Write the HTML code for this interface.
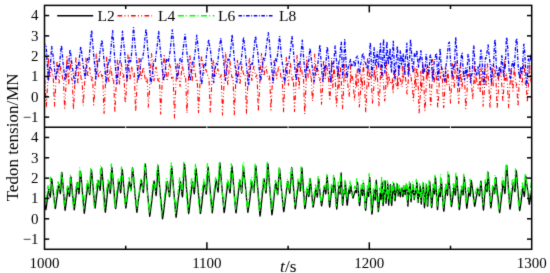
<!DOCTYPE html>
<html><head><meta charset="utf-8"><title>Tendon tension</title>
<style>html,body{margin:0;padding:0;background:#fff;overflow:hidden}svg{display:block}</style>
</head><body><svg width="550" height="273" viewBox="0 0 550 273"><filter id="bl" filterUnits="userSpaceOnUse" x="0" y="0" width="550" height="273" color-interpolation-filters="sRGB"><feConvolveMatrix order="3" kernelMatrix="0.0113 0.0838 0.0113 0.0838 0.6193 0.0838 0.0113 0.0838 0.0113" edgeMode="duplicate"/></filter><g filter="url(#bl)"><rect width="550" height="273" fill="#fff"/><defs><clipPath id="cu"><rect x="44.5" y="5.4" width="487.20000000000005" height="121.89999999999999"/></clipPath><clipPath id="cl"><rect x="44.5" y="127.3" width="487.20000000000005" height="122.00000000000001"/></clipPath></defs><g clip-path="url(#cl)" fill="none" stroke-linejoin="round"><polyline points="43.5,187.7 43.7,189.8 43.9,191.8 44.1,193.9 44.3,195.9 44.5,198.0 44.7,200.0 44.9,201.9 45.1,203.9 45.3,205.9 45.5,207.8 45.7,209.5 45.9,209.5 46.1,208.5 46.3,207.2 46.5,205.8 46.7,204.2 46.9,202.5 47.1,200.8 47.3,199.0 47.5,197.3 47.7,195.7 47.9,194.2 48.1,192.8 48.3,191.6 48.5,190.5 48.7,189.5 48.9,189.3 49.1,190.4 49.3,191.9 49.5,193.2 49.7,194.4 49.9,195.6 50.1,196.7 50.3,197.1 50.5,195.3 50.7,192.4 50.9,189.4 51.1,186.5 51.3,183.6 51.5,180.8 51.7,178.8 51.9,179.9 52.1,181.6 52.3,183.5 52.5,185.3 52.7,187.1 52.9,189.0 53.1,190.8 53.3,192.6 53.5,194.4 53.7,196.2 53.9,197.9 54.1,199.5 54.3,201.2 54.5,202.7 54.7,204.3 54.9,205.9 55.1,207.5 55.3,208.6 55.5,207.8 55.7,206.3 55.9,204.7 56.1,203.3 56.3,201.8 56.5,200.4 56.7,199.1 56.9,197.7 57.1,196.3 57.3,194.9 57.5,193.4 57.7,191.9 57.9,190.3 58.1,188.7 58.3,187.0 58.5,185.3 58.7,184.0 58.9,184.3 59.1,185.3 59.3,186.6 59.5,188.0 59.7,189.4 59.9,191.0 60.1,192.5 60.3,193.7 60.5,192.9 60.7,190.4 60.9,187.4 61.1,184.3 61.3,181.1 61.5,177.9 61.7,174.7 61.9,172.5 62.1,173.9 62.3,176.3 62.5,178.9 62.7,181.4 62.9,183.9 63.1,186.5 63.3,188.9 63.5,191.4 63.7,193.8 63.9,196.2 64.1,198.7 64.3,201.1 64.5,203.6 64.7,206.1 64.9,208.6 65.1,210.4 65.3,209.5 65.5,207.9 65.7,206.4 65.9,204.8 66.1,203.2 66.3,201.6 66.5,200.0 66.7,198.4 66.9,196.9 67.1,195.3 67.3,193.7 67.5,192.1 67.7,190.5 67.9,188.9 68.1,187.8 68.3,188.7 68.5,190.2 68.7,191.6 68.9,193.1 69.1,194.4 69.3,195.7 69.5,196.4 69.7,194.7 69.9,191.7 70.1,188.4 70.3,185.2 70.5,182.0 70.7,178.9 70.9,176.8 71.1,178.1 71.3,180.4 71.5,182.6 71.7,184.9 71.9,187.1 72.1,189.2 72.3,191.3 72.5,193.4 72.7,195.5 72.9,197.6 73.1,199.7 73.3,201.6 73.5,203.5 73.7,205.4 73.9,207.2 74.1,209.0 74.3,209.9 74.5,208.5 74.7,206.7 74.9,205.0 75.1,203.4 75.3,201.8 75.5,200.2 75.7,198.6 75.9,196.9 76.1,195.2 76.3,193.4 76.5,191.5 76.7,189.5 76.9,187.5 77.1,185.4 77.3,183.4 77.5,182.5 77.7,183.5 77.9,185.1 78.1,186.9 78.3,188.7 78.5,190.6 78.7,192.5 78.9,193.8 79.1,192.8 79.3,189.6 79.5,186.1 79.7,182.5 79.9,178.9 80.1,175.4 80.3,172.2 80.5,171.4 80.7,172.9 80.9,174.8 81.1,176.8 81.3,178.8 81.5,181.0 81.7,183.3 81.9,185.7 82.1,188.1 82.3,190.6 82.5,193.0 82.7,195.3 82.9,197.6 83.1,199.9 83.3,202.3 83.5,204.6 83.7,207.0 83.9,209.3 84.1,211.7 84.3,213.3 84.5,212.4 84.7,210.6 84.9,208.9 85.1,207.0 85.3,205.3 85.5,203.5 85.7,201.9 85.9,200.3 86.1,198.7 86.3,197.2 86.5,195.6 86.7,194.0 86.9,192.3 87.1,190.6 87.3,188.9 87.5,187.2 87.7,185.5 87.9,184.1 88.1,184.0 88.3,185.2 88.5,186.7 88.7,188.2 88.9,189.6 89.1,191.0 89.3,192.5 89.5,193.9 89.7,194.7 89.9,193.3 90.1,190.2 90.3,186.8 90.5,183.5 90.7,180.2 90.9,176.8 91.1,173.5 91.3,170.6 91.5,170.0 91.7,171.7 91.9,174.0 92.1,176.2 92.3,178.4 92.5,180.7 92.7,182.9 92.9,185.2 93.1,187.5 93.3,189.9 93.5,192.2 93.7,194.6 93.9,196.9 94.1,199.1 94.3,201.3 94.5,203.3 94.7,205.4 94.9,207.3 95.1,208.2 95.3,206.9 95.5,205.2 95.7,203.4 95.9,201.7 96.1,199.9 96.3,198.2 96.5,196.5 96.7,194.9 96.9,193.2 97.1,191.6 97.3,189.9 97.5,188.2 97.7,186.6 97.9,185.0 98.1,183.4 98.3,181.8 98.5,180.8 98.7,181.7 98.9,183.1 99.1,184.6 99.3,185.9 99.5,187.1 99.7,188.4 99.9,189.6 100.1,190.3 100.3,188.9 100.5,185.8 100.7,182.6 100.9,179.4 101.1,176.2 101.3,173.1 101.5,170.0 101.7,167.8 101.9,169.4 102.1,171.9 102.3,174.2 102.5,176.5 102.7,178.9 102.9,181.2 103.1,183.7 103.3,186.3 103.5,189.0 103.7,191.8 103.9,194.6 104.1,197.4 104.3,200.2 104.5,202.9 104.7,205.5 104.9,208.0 105.1,210.5 105.3,212.3 105.5,211.5 105.7,209.8 105.9,208.0 106.1,206.2 106.3,204.4 106.5,202.4 106.7,200.4 106.9,198.3 107.1,196.2 107.3,194.1 107.5,192.1 107.7,190.1 107.9,188.3 108.1,186.5 108.3,184.7 108.5,183.0 108.7,181.8 108.9,182.5 109.1,184.1 109.3,185.9 109.5,187.6 109.7,189.3 109.9,190.8 110.1,192.3 110.3,193.3 110.5,192.0 110.7,188.7 110.9,185.1 111.1,181.4 111.3,177.8 111.5,174.1 111.7,170.4 111.9,167.6 112.1,168.9 112.3,171.2 112.5,173.5 112.7,175.9 112.9,178.3 113.1,180.6 113.3,183.0 113.5,185.3 113.7,187.7 113.9,190.0 114.1,192.3 114.3,194.6 114.5,196.9 114.7,199.3 114.9,201.7 115.1,204.1 115.3,206.5 115.5,208.5 115.7,208.5 115.9,207.2 116.1,205.6 116.3,204.0 116.5,202.3 116.7,200.5 116.9,198.6 117.1,196.7 117.3,194.9 117.5,193.1 117.7,191.4 117.9,189.7 118.1,188.1 118.3,186.5 118.5,184.9 118.7,183.3 118.9,181.8 119.1,181.6 119.3,182.8 119.5,184.4 119.7,186.1 119.9,187.7 120.1,189.4 120.3,191.1 120.5,192.5 120.7,192.8 120.9,190.3 121.1,187.0 121.3,183.6 121.5,180.2 121.7,176.8 121.9,173.3 122.1,170.3 122.3,169.6 122.5,171.3 122.7,173.6 122.9,176.0 123.1,178.5 123.3,181.0 123.5,183.5 123.7,185.8 123.9,188.1 124.1,190.2 124.3,192.2 124.5,194.2 124.7,196.2 124.9,198.3 125.1,200.4 125.3,202.7 125.5,204.9 125.7,207.0 125.9,208.0 126.1,206.8 126.3,205.1 126.5,203.4 126.7,201.6 126.9,199.8 127.1,198.1 127.3,196.3 127.5,194.6 127.7,193.0 127.9,191.5 128.1,190.0 128.3,188.6 128.5,187.3 128.7,185.9 128.9,184.4 129.1,182.8 129.3,181.6 129.5,182.2 129.7,183.3 129.9,184.4 130.1,185.5 130.3,186.7 130.5,188.0 130.7,189.3 130.9,190.2 131.1,188.9 131.3,186.0 131.5,182.9 131.7,179.9 131.9,176.8 132.1,173.7 132.3,170.4 132.5,167.8 132.7,168.7 132.9,170.4 133.1,172.2 133.3,174.1 133.5,176.1 133.7,178.3 133.9,180.6 134.1,182.9 134.3,185.3 134.5,187.7 134.7,190.1 134.9,192.4 135.1,194.7 135.3,196.9 135.5,199.1 135.7,201.2 135.9,203.3 136.1,205.3 136.3,207.2 136.5,209.2 136.7,211.1 136.9,212.4 137.1,211.3 137.3,209.5 137.5,207.7 137.7,205.9 137.9,204.1 138.1,202.3 138.3,200.7 138.5,199.2 138.7,197.9 138.9,196.6 139.1,195.3 139.3,194.0 139.5,192.6 139.7,191.2 139.9,189.6 140.1,188.1 140.3,186.7 140.5,185.3 140.7,183.8 140.9,182.4 141.1,181.0 141.3,180.3 141.5,181.3 141.7,182.6 141.9,184.0 142.1,185.3 142.3,186.6 142.5,187.9 142.7,189.1 142.9,190.4 143.1,191.7 143.3,192.6 143.5,191.3 143.7,188.5 143.9,185.5 144.1,182.3 144.3,179.2 144.5,175.9 144.7,172.7 144.9,169.5 145.1,166.2 145.3,164.0 145.5,165.4 145.7,167.8 145.9,170.2 146.1,172.7 146.3,175.3 146.5,178.1 146.7,180.9 146.9,183.9 147.1,186.7 147.3,189.5 147.5,192.1 147.7,194.4 147.9,196.6 148.1,198.7 148.3,200.8 148.5,202.8 148.7,204.9 148.9,207.1 149.1,209.4 149.3,211.9 149.5,214.4 149.7,216.4 149.9,215.5 150.1,214.0 150.3,212.5 150.5,210.9 150.7,209.4 150.9,207.9 151.1,206.4 151.3,204.8 151.5,203.3 151.7,201.6 151.9,199.8 152.1,197.9 152.3,195.9 152.5,194.0 152.7,192.1 152.9,190.3 153.1,188.5 153.3,186.8 153.5,185.1 153.7,183.3 153.9,181.7 154.1,180.9 154.3,182.0 154.5,183.5 154.7,185.0 154.9,186.6 155.1,188.0 155.3,189.5 155.5,191.1 155.7,192.7 155.9,194.4 156.1,195.7 156.3,194.6 156.5,191.9 156.7,188.7 156.9,185.4 157.1,181.9 157.3,178.3 157.5,174.7 157.7,171.3 157.9,168.0 158.1,165.9 158.3,167.8 158.5,170.7 158.7,173.7 158.9,176.6 159.1,179.4 159.3,182.1 159.5,184.7 159.7,187.2 159.9,189.5 160.1,191.8 160.3,194.1 160.5,196.3 160.7,198.5 160.9,200.7 161.1,202.9 161.3,205.1 161.5,207.3 161.7,209.6 161.9,211.9 162.1,214.3 162.3,216.9 162.5,218.9 162.7,218.2 162.9,216.9 163.1,215.6 163.3,214.1 163.5,212.6 163.7,211.0 163.9,209.4 164.1,207.6 164.3,205.8 164.5,203.9 164.7,202.0 164.9,200.1 165.1,198.3 165.3,196.7 165.5,195.1 165.7,193.6 165.9,192.1 166.1,190.6 166.3,188.9 166.5,187.2 166.7,185.4 166.9,183.6 167.1,182.1 167.3,181.3 167.5,182.5 167.7,184.2 167.9,185.9 168.1,187.6 168.3,189.1 168.5,190.6 168.7,191.9 168.9,193.2 169.1,194.4 169.3,195.8 169.5,196.7 169.7,195.7 169.9,193.1 170.1,190.3 170.3,187.5 170.5,184.6 170.7,181.6 170.9,178.5 171.1,175.2 171.3,172.0 171.5,168.7 171.7,166.4 171.9,168.0 172.1,170.5 172.3,173.0 172.5,175.5 172.7,178.0 172.9,180.5 173.1,183.0 173.3,185.4 173.5,187.9 173.7,190.2 173.9,192.5 174.1,194.6 174.3,196.7 174.5,198.7 174.7,200.9 174.9,203.2 175.1,205.6 175.3,208.1 175.5,210.7 175.7,213.2 175.9,215.7 176.1,217.4 176.3,216.3 176.5,214.5 176.7,212.7 176.9,210.9 177.1,209.1 177.3,207.3 177.5,205.6 177.7,203.7 177.9,202.0 178.1,200.2 178.3,198.5 178.5,197.0 178.7,195.5 178.9,194.0 179.1,192.4 179.3,190.8 179.5,189.0 179.7,187.2 179.9,185.4 180.1,183.7 180.3,182.3 180.5,181.8 180.7,183.2 180.9,185.1 181.1,187.1 181.3,188.9 181.5,190.7 181.7,192.3 181.9,193.8 182.1,195.1 182.3,196.4 182.5,196.9 182.7,195.1 182.9,191.5 183.1,187.7 183.3,183.9 183.5,180.1 183.7,176.5 183.9,173.0 184.1,169.7 184.3,166.4 184.5,164.1 184.7,165.6 184.9,168.0 185.1,170.3 185.3,172.6 185.5,175.0 185.7,177.5 185.9,180.1 186.1,182.8 186.3,185.4 186.5,188.0 186.7,190.5 186.9,192.8 187.1,195.1 187.3,197.4 187.5,199.8 187.7,202.4 187.9,205.0 188.1,207.7 188.3,210.3 188.5,212.7 188.7,213.5 188.9,212.4 189.1,210.8 189.3,209.1 189.5,207.4 189.7,205.5 189.9,203.6 190.1,201.7 190.3,199.8 190.5,198.0 190.7,196.2 190.9,194.6 191.1,193.0 191.3,191.3 191.5,189.6 191.7,187.9 191.9,186.2 192.1,184.5 192.3,182.9 192.5,181.8 192.7,182.8 192.9,184.3 193.1,185.9 193.3,187.4 193.5,188.9 193.7,190.3 193.9,191.7 194.1,193.1 194.3,193.9 194.5,192.5 194.7,189.5 194.9,186.1 195.1,182.9 195.3,179.7 195.5,176.6 195.7,173.5 195.9,170.5 196.1,168.4 196.3,170.0 196.5,172.5 196.7,174.9 196.9,177.1 197.1,179.2 197.3,181.2 197.5,183.1 197.7,185.1 197.9,187.2 198.1,189.4 198.3,191.6 198.5,193.9 198.7,196.1 198.9,198.2 199.1,200.3 199.3,202.5 199.5,204.6 199.7,206.8 199.9,209.1 200.1,211.4 200.3,213.4 200.5,213.5 200.7,212.3 200.9,210.9 201.1,209.5 201.3,208.0 201.5,206.5 201.7,204.9 201.9,203.2 202.1,201.4 202.3,199.5 202.5,197.5 202.7,195.6 202.9,193.7 203.1,191.9 203.3,190.2 203.5,188.6 203.7,187.0 203.9,185.4 204.1,183.8 204.3,182.6 204.5,182.7 204.7,184.0 204.9,185.5 205.1,186.9 205.3,188.2 205.5,189.6 205.7,190.9 205.9,192.3 206.1,193.6 206.3,194.2 206.5,192.0 206.7,188.7 206.9,185.4 207.1,182.2 207.3,178.9 207.5,175.7 207.7,172.4 207.9,169.2 208.1,167.0 208.3,168.5 208.5,170.9 208.7,173.4 208.9,175.7 209.1,178.0 209.3,180.1 209.5,182.2 209.7,184.3 209.9,186.4 210.1,188.6 210.3,190.9 210.5,193.4 210.7,196.0 210.9,198.5 211.1,201.1 211.3,203.4 211.5,205.6 211.7,207.7 211.9,209.8 212.1,211.7 212.3,212.9 212.5,211.5 212.7,209.4 212.9,207.4 213.1,205.4 213.3,203.6 213.5,201.8 213.7,200.1 213.9,198.4 214.1,196.8 214.3,195.1 214.5,193.4 214.7,191.7 214.9,189.9 215.1,188.2 215.3,186.6 215.5,185.1 215.7,183.6 215.9,182.0 216.1,180.5 216.3,179.9 216.5,181.0 216.7,182.5 216.9,184.0 217.1,185.5 217.3,187.1 217.5,188.6 217.7,190.0 217.9,191.4 218.1,192.1 218.3,190.0 218.5,186.4 218.7,182.7 218.9,179.0 219.1,175.5 219.3,172.1 219.5,168.7 219.7,165.3 219.9,162.9 220.1,164.5 220.3,167.1 220.5,169.7 220.7,172.3 220.9,174.9 221.1,177.5 221.3,179.9 221.5,182.3 221.7,184.6 221.9,187.0 222.1,189.3 222.3,191.7 222.5,194.2 222.7,196.6 222.9,198.9 223.1,201.3 223.3,203.5 223.5,205.8 223.7,208.2 223.9,210.6 224.1,212.6 224.3,212.4 224.5,211.0 224.7,209.4 224.9,207.7 225.1,205.9 225.3,204.1 225.5,202.3 225.7,200.5 225.9,198.7 226.1,196.9 226.3,195.1 226.5,193.4 226.7,191.8 226.9,190.2 227.1,188.7 227.3,187.3 227.5,186.0 227.7,184.6 227.9,183.2 228.1,181.9 228.3,182.0 228.5,183.2 228.7,184.5 228.9,185.9 229.1,187.2 229.3,188.5 229.5,189.8 229.7,191.1 229.9,192.4 230.1,192.9 230.3,190.5 230.5,187.2 230.7,183.9 230.9,180.8 231.1,177.7 231.3,174.7 231.5,171.6 231.7,168.4 231.9,166.0 232.1,167.3 232.3,169.4 232.5,171.6 232.7,173.9 232.9,176.3 233.1,178.7 233.3,181.3 233.5,183.9 233.7,186.4 233.9,189.0 234.1,191.5 234.3,194.0 234.5,196.6 234.7,199.1 234.9,201.5 235.1,204.0 235.3,206.3 235.5,208.6 235.7,210.8 235.9,212.6 236.1,212.9 236.3,211.2 236.5,209.2 236.7,207.3 236.9,205.5 237.1,203.8 237.3,202.2 237.5,200.5 237.7,198.8 237.9,197.0 238.1,195.1 238.3,193.3 238.5,191.5 238.7,189.7 238.9,187.9 239.1,186.2 239.3,184.4 239.5,182.8 239.7,181.2 239.9,180.3 240.1,181.5 240.3,183.3 240.5,185.1 240.7,186.7 240.9,188.1 241.1,189.5 241.3,190.9 241.5,192.3 241.7,193.2 241.9,192.0 242.1,189.0 242.3,185.7 242.5,182.3 242.7,178.9 242.9,175.5 243.1,172.1 243.3,168.8 243.5,166.5 243.7,168.1 243.9,170.6 244.1,173.0 244.3,175.2 244.5,177.3 244.7,179.2 244.9,181.1 245.1,182.9 245.3,184.8 245.5,186.8 245.7,188.9 245.9,191.2 246.1,193.4 246.3,195.7 246.5,198.0 246.7,200.2 246.9,202.4 247.1,204.5 247.3,206.8 247.5,209.0 247.7,211.1 247.9,212.3 248.1,211.2 248.3,209.7 248.5,208.3 248.7,207.0 248.9,205.8 249.1,204.6 249.3,203.3 249.5,202.0 249.7,200.5 249.9,198.8 250.1,197.0 250.3,195.1 250.5,193.2 250.7,191.4 250.9,189.7 251.1,188.1 251.3,186.5 251.5,184.9 251.7,183.3 251.9,181.9 252.1,181.8 252.3,182.8 252.5,184.1 252.7,185.4 252.9,186.7 253.1,188.0 253.3,189.4 253.5,190.7 253.7,191.9 253.9,192.6 254.1,191.0 254.3,187.8 254.5,184.5 254.7,181.2 254.9,178.0 255.1,175.0 255.3,172.0 255.5,169.0 255.7,166.4 255.9,166.1 256.1,168.2 256.3,170.6 256.5,173.0 256.7,175.4 256.9,177.9 257.1,180.3 257.3,182.8 257.5,185.2 257.7,187.7 257.9,190.1 258.1,192.4 258.3,194.8 258.5,197.1 258.7,199.6 258.9,202.0 259.1,204.6 259.3,207.2 259.5,209.8 259.7,212.4 259.9,214.9 260.1,216.1 260.3,214.9 260.5,213.0 260.7,211.0 260.9,209.1 261.1,207.1 261.3,205.0 261.5,203.0 261.7,201.0 261.9,199.0 262.1,197.1 262.3,195.1 262.5,193.2 262.7,191.3 262.9,189.3 263.1,187.4 263.3,185.4 263.5,183.5 263.7,181.7 263.9,179.9 264.1,179.0 264.3,180.2 264.5,182.0 264.7,183.6 264.9,185.3 265.1,186.9 265.3,188.5 265.5,190.1 265.7,191.7 265.9,193.0 266.1,192.4 266.3,189.4 266.5,185.8 266.7,182.2 266.9,178.7 267.1,175.1 267.3,171.4 267.5,167.8 267.7,164.5 267.9,163.9 268.1,165.8 268.3,168.3 268.5,170.9 268.7,173.6 268.9,176.4 269.1,179.1 269.3,181.8 269.5,184.4 269.7,186.9 269.9,189.3 270.1,191.7 270.3,194.1 270.5,196.6 270.7,199.1 270.9,201.7 271.1,204.4 271.3,207.2 271.5,210.0 271.7,212.8 271.9,214.9 272.1,214.3 272.3,212.9 272.5,211.3 272.7,209.7 272.9,208.1 273.1,206.4 273.3,204.6 273.5,202.6 273.7,200.6 273.9,198.4 274.1,196.3 274.3,194.2 274.5,192.2 274.7,190.4 274.9,188.8 275.1,187.2 275.3,185.7 275.5,184.2 275.7,182.9 275.9,182.7 276.1,183.9 276.3,185.3 276.5,186.7 276.7,188.0 276.9,189.5 277.1,191.0 277.3,192.6 277.5,194.1 277.7,194.7 277.9,192.3 278.1,189.1 278.3,185.8 278.5,182.4 278.7,179.0 278.9,175.5 279.1,172.1 279.3,169.1 279.5,168.3 279.7,169.8 279.9,171.8 280.1,173.9 280.3,176.1 280.5,178.3 280.7,180.6 280.9,182.9 281.1,185.2 281.3,187.4 281.5,189.6 281.7,191.7 281.9,193.8 282.1,195.9 282.3,198.0 282.5,200.0 282.7,202.0 282.9,204.0 283.1,206.0 283.3,208.1 283.5,210.1 283.7,211.7 283.9,211.5 284.1,210.0 284.3,208.3 284.5,206.6 284.7,204.9 284.9,203.2 285.1,201.6 285.3,199.9 285.5,198.3 285.7,196.7 285.9,195.1 286.1,193.6 286.3,192.0 286.5,190.5 286.7,188.9 286.9,187.4 287.1,185.9 287.3,184.4 287.5,183.1 287.7,182.0 287.9,181.3 288.1,182.5 288.3,183.9 288.5,185.3 288.7,186.6 288.9,187.9 289.1,189.2 289.3,190.5 289.5,191.8 289.7,193.0 289.9,193.3 290.1,191.0 290.3,188.1 290.5,185.3 290.7,182.5 290.9,179.6 291.1,176.6 291.3,173.5 291.5,170.2 291.7,167.7 291.9,168.8 292.1,170.7 292.3,172.7 292.5,174.7 292.7,176.9 292.9,179.2 293.1,181.7 293.3,184.3 293.5,187.1 293.7,189.9 293.9,192.6 294.1,195.3 294.3,197.8 294.5,200.2 294.7,202.5 294.9,204.8 295.1,207.1 295.3,208.8 295.5,208.1 295.7,206.4 295.9,204.6 296.1,202.8 296.3,201.1 296.5,199.3 296.7,197.6 296.9,195.9 297.1,194.4 297.3,192.9 297.5,191.5 297.7,190.1 297.9,188.7 298.1,187.1 298.3,185.4 298.5,183.6 298.7,182.1 298.9,182.3 299.1,183.5 299.3,184.7 299.5,186.1 299.7,187.4 299.9,188.8 300.1,190.2 300.3,191.2 300.5,189.9 300.7,186.8 300.9,183.3 301.1,179.9 301.3,176.6 301.5,173.3 301.7,170.0 301.9,167.8 302.1,169.8 302.3,172.7 302.5,175.7 302.7,178.6 302.9,181.5 303.1,184.2 303.3,187.0 303.5,189.7 303.7,192.4 303.9,195.3 304.1,198.2 304.3,201.2 304.5,204.2 304.7,207.1 304.9,208.7 305.1,207.9 305.3,206.6 305.5,205.2 305.7,203.8 305.9,202.3 306.1,200.6 306.3,198.9 306.5,197.1 306.7,195.3 306.9,193.6 307.1,191.9 307.3,190.5 307.5,189.4 307.7,189.3 307.9,190.8 308.1,192.4 308.3,193.9 308.5,195.1 308.7,196.1 308.9,196.5 309.1,194.7 309.3,191.5 309.5,188.2 309.7,185.0 309.9,181.9 310.1,179.4 310.3,179.0 310.5,180.8 310.7,183.1 310.9,185.3 311.1,187.5 311.3,189.7 311.5,191.8 311.7,193.9 311.9,195.9 312.1,197.8 312.3,199.7 312.5,201.7 312.7,203.6 312.9,205.5 313.1,207.1 313.3,207.0 313.5,205.7 313.7,204.2 313.9,202.8 314.1,201.5 314.3,200.2 314.5,198.9 314.7,197.5 314.9,196.0 315.1,194.4 315.3,192.8 315.5,191.3 315.7,189.7 315.9,188.4 316.1,188.4 316.3,189.7 316.5,191.3 316.7,193.0 316.9,194.6 317.1,196.2 317.3,197.1 317.5,195.5 317.7,192.5 317.9,189.2 318.1,185.9 318.3,182.7 318.5,179.8 318.7,179.2 318.9,180.8 319.1,182.9 319.3,185.2 319.5,187.5 319.7,189.8 319.9,191.9 320.1,194.0 320.3,195.9 320.5,197.6 320.7,199.2 320.9,200.8 321.1,202.4 321.3,204.1 321.5,205.6 321.7,205.9 321.9,204.7 322.1,203.2 322.3,201.8 322.5,200.3 322.7,198.7 322.9,197.2 323.1,195.6 323.3,194.1 323.5,192.7 323.7,191.2 323.9,189.8 324.1,188.3 324.3,186.8 324.5,186.1 324.7,187.0 324.9,188.4 325.1,189.8 325.3,191.2 325.5,192.6 325.7,193.8 325.9,193.4 326.1,190.7 326.3,187.4 326.5,184.1 326.7,181.0 326.9,178.0 327.1,176.0 327.3,177.8 327.5,180.6 327.7,183.4 327.9,186.1 328.1,188.9 328.3,191.5 328.5,194.2 328.7,196.9 328.9,199.4 329.1,201.9 329.3,204.3 329.5,206.3 329.7,207.2 329.9,205.7 330.1,203.7 330.3,201.8 330.5,199.8 330.7,197.9 330.9,196.0 331.1,194.2 331.3,192.4 331.5,190.6 331.7,188.8 331.9,187.1 332.1,186.0 332.3,186.9 332.5,188.2 332.7,189.6 332.9,191.0 333.1,192.4 333.3,192.2 333.5,189.7 333.7,186.7 333.9,183.6 334.1,180.4 334.3,178.1 334.5,179.7 334.7,182.2 334.9,184.7 335.1,187.1 335.3,189.7 335.5,192.3 335.7,195.1 335.9,198.1 336.1,201.1 336.3,204.1 336.5,207.0 336.7,209.1 336.9,208.1 337.1,205.9 337.3,203.7 337.5,201.5 337.7,199.2 337.9,196.9 338.1,194.6 338.3,192.3 338.5,190.0 338.7,187.8 338.9,186.0 339.1,186.0 339.3,187.8 339.5,189.7 339.7,191.6 339.9,193.4 340.1,194.0 340.3,190.4 340.5,185.8 340.7,180.9 340.9,176.1 341.1,172.8 341.3,175.6 341.5,180.0 341.7,184.6 341.9,189.4 342.1,194.5 342.3,199.6 342.5,204.0 342.7,205.2 342.9,203.3 343.1,200.7 343.3,198.1 343.5,195.3 343.7,192.7 343.9,190.5 344.1,190.1 344.3,191.6 344.5,193.5 344.7,193.8 344.9,189.9 345.1,185.1 345.3,181.6 345.5,183.1 345.7,185.9 345.9,189.0 346.1,191.9 346.3,194.8 346.5,197.7 346.7,200.4 346.9,203.1 347.1,205.2 347.3,205.2 347.5,203.6 347.7,201.6 347.9,199.4 348.1,197.1 348.3,194.9 348.5,192.8 348.7,190.8 348.9,189.3 349.1,189.4 349.3,190.6 349.5,192.0 349.7,193.3 349.9,192.9 350.1,190.6 350.3,187.8 350.5,185.4 350.7,184.9 350.9,186.2 351.1,187.7 351.3,189.0 351.5,190.3 351.7,191.4 351.9,192.5 352.1,193.5 352.3,194.6 352.5,195.6 352.7,196.6 352.9,197.7 353.1,198.2 353.3,197.4 353.5,196.5 353.7,195.7 353.9,195.0 354.1,194.4 354.3,193.9 354.5,193.4 354.7,192.8 354.9,192.2 355.1,191.4 355.3,190.6 355.5,190.6 355.7,191.0 355.9,191.5 356.1,192.0 356.3,192.6 356.5,192.6 356.7,190.6 356.9,188.5 357.1,186.3 357.3,184.0 357.5,182.5 357.7,183.8 357.9,186.0 358.1,188.4 358.3,190.8 358.5,193.5 358.7,195.9 358.9,198.6 359.1,201.2 359.3,203.6 359.5,205.5 359.7,205.5 359.9,203.6 360.1,201.4 360.3,199.0 360.5,196.6 360.7,194.3 360.9,192.1 361.1,190.2 361.3,188.4 361.5,187.3 361.7,187.8 361.9,189.8 362.1,191.9 362.3,194.1 362.5,195.4 362.7,193.5 362.9,190.2 363.1,186.7 363.3,183.5 363.5,183.1 363.7,185.4 363.9,188.5 364.1,191.2 364.3,193.8 364.5,196.4 364.7,198.9 364.9,201.6 365.1,204.4 365.3,207.4 365.5,210.0 365.7,210.3 365.9,208.5 366.1,206.2 366.3,203.9 366.5,201.7 366.7,199.3 366.9,197.0 367.1,194.6 367.3,192.2 367.5,189.7 367.7,188.3 367.9,189.7 368.1,191.9 368.3,193.8 368.5,196.0 368.7,196.4 368.9,192.5 369.1,187.5 369.3,182.5 369.5,178.2 369.7,177.4 369.9,180.0 370.1,183.2 370.3,186.7 370.5,190.1 370.7,193.5 370.9,197.0 371.1,200.5 371.3,203.9 371.5,207.6 371.7,211.1 371.9,214.1 372.1,213.9 372.3,211.6 372.5,208.9 372.7,206.3 372.9,203.5 373.1,200.8 373.3,198.2 373.5,195.8 373.7,193.6 373.9,191.7 374.1,190.2 374.3,191.2 374.5,193.4 374.7,196.1 374.9,198.5 375.1,200.2 375.3,199.4 375.5,195.3 375.7,190.5 375.9,185.5 376.1,181.1 376.3,180.2 376.5,182.6 376.7,185.8 376.9,189.0 377.1,192.2 377.3,195.4 377.5,198.7 377.7,202.2 377.9,205.8 378.1,209.4 378.3,211.6 378.5,210.6 378.7,208.8 378.9,206.9 379.1,204.9 379.3,202.8 379.5,200.5 379.7,198.0 379.9,195.4 380.1,193.3 380.3,192.9 380.5,194.5 380.7,196.6 380.9,198.4 381.1,199.5 381.3,196.6 381.5,191.8 381.7,186.7 381.9,182.3 382.1,182.2 382.3,186.4 382.5,191.9 382.7,197.3 382.9,202.7 383.1,205.7 383.3,203.5 383.5,199.9 383.7,196.1 383.9,192.3 384.1,190.0 384.3,192.0 384.5,193.5 384.7,189.1 384.9,182.4 385.1,181.0 385.3,185.6 385.5,191.6 385.7,197.9 385.9,203.2 386.1,203.2 386.3,199.8 386.5,196.0 386.7,192.6 386.9,191.0 387.1,193.9 387.3,195.6 387.5,189.3 387.7,183.2 387.9,186.0 388.1,191.2 388.3,196.5 388.5,201.7 388.7,205.2 388.9,202.8 389.1,199.0 389.3,195.2 389.5,191.9 389.7,190.9 389.9,193.3 390.1,194.5 390.3,189.4 390.5,184.7 390.7,187.5 390.9,192.0 391.1,196.5 391.3,200.7 391.5,204.3 391.7,205.5 391.9,203.1 392.1,199.8 392.3,196.4 392.5,193.2 392.7,190.8 392.9,192.0 393.1,193.7 393.3,192.7 393.5,187.8 393.7,183.6 393.9,185.2 394.1,188.4 394.3,191.7 394.5,194.9 394.7,198.4 394.9,200.8 395.1,200.5 395.3,198.5 395.5,196.1 395.7,193.7 395.9,191.3 396.1,189.5 396.3,190.1 396.5,191.4 396.7,191.8 396.9,188.2 397.1,184.6 397.3,184.2 397.5,187.2 397.7,191.0 397.9,194.5 398.1,195.8 398.3,194.5 398.5,192.6 398.7,191.1 398.9,191.8 399.1,193.3 399.3,191.6 399.5,188.8 399.7,190.3 399.9,192.8 400.1,195.0 400.3,196.8 400.5,196.5 400.7,194.7 400.9,192.5 401.1,190.6 401.3,189.8 401.5,190.5 401.7,190.2 401.9,188.1 402.1,188.2 402.3,190.8 402.5,193.9 402.7,196.3 402.9,196.6 403.1,194.8 403.3,192.5 403.5,190.8 403.7,191.2 403.9,191.2 404.1,188.1 404.3,187.1 404.5,188.8 404.7,191.1 404.9,193.4 405.1,194.7 405.3,193.1 405.5,190.7 405.7,188.4 405.9,187.1 406.1,188.1 406.3,189.4 406.5,187.3 406.7,185.0 406.9,188.0 407.1,192.2 407.3,196.4 407.5,200.5 407.7,204.2 407.9,206.2 408.1,203.7 408.3,200.2 408.5,196.4 408.7,192.6 408.9,189.6 409.1,189.8 409.3,192.4 409.5,194.1 409.7,189.7 409.9,184.4 410.1,183.7 410.3,187.9 410.5,192.5 410.7,197.2 410.9,201.1 411.1,201.8 411.3,199.5 411.5,196.6 411.7,193.7 411.9,191.4 412.1,192.0 412.3,193.0 412.5,190.8 412.7,186.4 412.9,184.6 413.1,186.3 413.3,188.6 413.5,191.0 413.7,193.5 413.9,196.1 414.1,198.7 414.3,199.5 414.5,198.3 414.7,196.5 414.9,194.9 415.1,193.1 415.3,191.3 415.5,189.8 415.7,190.3 415.9,192.0 416.1,193.2 416.3,191.7 416.5,187.3 416.7,183.0 416.9,182.3 417.1,185.3 417.3,189.3 417.5,193.6 417.7,198.1 417.9,201.9 418.1,202.4 418.3,200.4 418.5,198.0 418.7,195.6 418.9,193.3 419.1,192.1 419.3,194.1 419.5,196.2 419.7,195.1 419.9,190.2 420.1,186.1 420.3,188.3 420.5,192.0 420.7,195.7 420.9,199.5 421.1,202.9 421.3,204.0 421.5,201.2 421.7,197.8 421.9,194.4 422.1,191.1 422.3,188.9 422.5,190.8 422.7,193.4 422.9,192.7 423.1,187.6 423.3,183.3 423.5,186.6 423.7,191.7 423.9,196.7 424.1,201.6 424.3,206.0 424.5,207.8 424.7,205.4 424.9,202.0 425.1,198.6 425.3,195.1 425.5,192.4 425.7,193.6 425.9,195.5 426.1,194.3 426.3,189.2 426.5,185.0 426.7,188.0 426.9,192.7 427.1,197.5 427.3,202.1 427.5,205.9 427.7,206.2 427.9,202.9 428.1,198.9 428.3,194.9 428.5,191.4 428.7,190.3 428.9,193.0 429.1,195.1 429.3,190.7 429.5,184.2 429.7,181.6 429.9,183.3 430.1,186.0 430.3,188.6 430.5,191.3 430.7,194.0 430.9,196.9 431.1,199.9 431.3,203.0 431.5,206.0 431.7,207.5 431.9,205.9 432.1,203.5 432.3,201.0 432.5,198.5 432.7,196.0 432.9,193.5 433.1,191.0 433.3,188.6 433.5,186.5 433.7,186.4 433.9,188.2 434.1,190.5 434.3,192.7 434.5,193.9 434.7,191.2 434.9,186.7 435.1,181.9 435.3,177.8 435.5,177.2 435.7,180.0 435.9,183.4 436.1,186.9 436.3,190.4 436.5,193.9 436.7,197.5 436.9,201.0 437.1,204.5 437.3,207.8 437.5,209.6 437.7,208.0 437.9,205.7 438.1,203.3 438.3,200.9 438.5,198.5 438.7,196.0 438.9,193.6 439.1,191.2 439.3,189.2 439.5,189.0 439.7,190.9 439.9,193.1 440.1,195.3 440.3,196.6 440.5,193.9 440.7,189.3 440.9,184.4 441.1,180.2 441.3,179.1 441.5,181.3 441.7,184.0 441.9,186.9 442.1,189.9 442.3,192.8 442.5,195.7 442.7,198.6 442.9,201.4 443.1,204.0 443.3,206.5 443.5,208.9 443.7,210.9 443.9,211.2 444.1,209.1 444.3,206.6 444.5,204.2 444.7,201.9 444.9,199.7 445.1,197.6 445.3,195.5 445.5,193.5 445.7,191.5 445.9,189.4 446.1,187.2 446.3,185.7 446.5,186.9 446.7,188.8 446.9,190.6 447.1,192.5 447.3,194.4 447.5,195.3 447.7,191.9 447.9,187.6 448.1,183.2 448.3,179.0 448.5,175.3 448.7,174.6 448.9,176.8 449.1,179.5 449.3,182.2 449.5,184.8 449.7,187.4 449.9,189.8 450.1,192.2 450.3,194.5 450.5,196.8 450.7,198.9 450.9,201.1 451.1,203.4 451.3,205.6 451.5,206.5 451.7,205.4 451.9,204.0 452.1,202.5 452.3,201.1 452.5,199.5 452.7,197.9 452.9,196.2 453.1,194.4 453.3,192.5 453.5,190.7 453.7,188.9 453.9,187.1 454.1,185.9 454.3,186.8 454.5,188.4 454.7,190.2 454.9,192.0 455.1,193.8 455.3,195.1 455.5,194.5 455.7,191.4 455.9,187.7 456.1,184.0 456.3,180.2 456.5,177.0 456.7,176.3 456.9,178.3 457.1,180.8 457.3,183.5 457.5,186.2 457.7,189.1 457.9,191.9 458.1,194.7 458.3,197.4 458.5,200.1 458.7,202.7 458.9,205.2 459.1,207.8 459.3,209.7 459.5,209.1 459.7,207.3 459.9,205.4 460.1,203.4 460.3,201.4 460.5,199.3 460.7,197.2 460.9,195.1 461.1,193.1 461.3,191.2 461.5,189.5 461.7,187.9 461.9,186.9 462.1,188.0 462.3,189.8 462.5,191.5 462.7,193.0 462.9,194.3 463.1,195.0 463.3,193.1 463.5,189.7 463.7,186.2 463.9,182.9 464.1,179.5 464.3,177.1 464.5,178.7 464.7,181.1 464.9,183.5 465.1,185.8 465.3,188.2 465.5,190.7 465.7,193.5 465.9,196.5 466.1,199.6 466.3,202.7 466.5,205.8 466.7,208.2 466.9,208.1 467.1,206.6 467.3,205.0 467.5,203.2 467.7,201.5 467.9,199.8 468.1,198.0 468.3,196.3 468.5,194.6 468.7,192.9 468.9,191.3 469.1,190.4 469.3,191.4 469.5,192.7 469.7,194.1 469.9,195.3 470.1,196.1 470.3,194.6 470.5,191.3 470.7,187.9 470.9,184.5 471.1,181.5 471.3,180.6 471.5,181.7 471.7,183.2 471.9,184.6 472.1,186.0 472.3,187.4 472.5,188.8 472.7,190.3 472.9,191.8 473.1,193.4 473.3,195.1 473.5,196.8 473.7,198.6 473.9,200.4 474.1,202.2 474.3,203.9 474.5,205.6 474.7,206.4 474.9,205.7 475.1,204.7 475.3,203.5 475.5,202.2 475.7,200.9 475.9,199.7 476.1,198.5 476.3,197.4 476.5,196.4 476.7,195.3 476.9,194.2 477.1,193.1 477.3,191.9 477.5,190.8 477.7,189.7 477.9,189.0 478.1,189.7 478.3,190.7 478.5,191.7 478.7,192.7 478.9,193.8 479.1,194.9 479.3,195.9 479.5,195.9 479.7,194.2 479.9,192.0 480.1,189.7 480.3,187.3 480.5,185.0 480.7,182.7 480.9,181.1 481.1,182.5 481.3,184.8 481.5,187.1 481.7,189.5 481.9,192.0 482.1,194.4 482.3,196.9 482.5,199.4 482.7,202.0 482.9,204.4 483.1,206.9 483.3,209.1 483.5,210.0 483.7,208.3 483.9,205.9 484.1,203.3 484.3,200.7 484.5,198.0 484.7,195.3 484.9,192.7 485.1,190.2 485.3,187.8 485.5,185.6 485.7,183.4 485.9,182.3 486.1,183.6 486.3,185.5 486.5,187.6 486.7,189.7 486.9,191.7 487.1,191.6 487.3,188.3 487.5,184.3 487.7,180.1 487.9,175.8 488.1,172.5 488.3,173.9 488.5,176.4 488.7,179.0 488.9,181.7 489.1,184.5 489.3,187.5 489.5,190.5 489.7,193.5 489.9,196.5 490.1,199.3 490.3,202.0 490.5,204.6 490.7,207.0 490.9,207.8 491.1,206.4 491.3,204.6 491.5,203.0 491.7,201.4 491.9,199.8 492.1,198.2 492.3,196.5 492.5,194.8 492.7,193.0 492.9,191.1 493.1,189.3 493.3,187.7 493.5,187.3 493.7,188.4 493.9,189.8 494.1,191.2 494.3,192.5 494.5,193.5 494.7,193.3 494.9,190.3 495.1,186.9 495.3,183.6 495.5,180.4 495.7,177.8 495.9,177.5 496.1,179.5 496.3,181.8 496.5,184.0 496.7,186.1 496.9,188.0 497.1,189.8 497.3,191.6 497.5,193.3 497.7,195.0 497.9,196.7 498.1,198.4 498.3,200.2 498.5,202.1 498.7,204.1 498.9,206.1 499.1,208.1 499.3,210.2 499.5,212.1 499.7,212.7 499.9,211.2 500.1,209.3 500.3,207.4 500.5,205.6 500.7,203.8 500.9,202.1 501.1,200.5 501.3,198.9 501.5,197.4 501.7,195.9 501.9,194.2 502.1,192.4 502.3,190.4 502.5,188.3 502.7,186.1 502.9,184.0 503.1,182.0 503.3,181.2 503.5,182.4 503.7,184.2 503.9,186.0 504.1,187.7 504.3,189.4 504.5,191.1 504.7,192.6 504.9,193.7 505.1,192.4 505.3,188.9 505.5,184.9 505.7,181.0 505.9,177.1 506.1,173.2 506.3,169.3 506.5,166.0 506.7,165.4 506.9,167.4 507.1,170.1 507.3,172.7 507.5,175.3 507.7,178.0 507.9,180.6 508.1,183.3 508.3,186.0 508.5,188.9 508.7,191.7 508.9,194.6 509.1,197.5 509.3,200.3 509.5,203.0 509.7,205.7 509.9,208.1 510.1,209.2 510.3,208.0 510.5,206.3 510.7,204.5 510.9,202.6 511.1,200.7 511.3,198.8 511.5,196.9 511.7,195.1 511.9,193.4 512.1,191.7 512.3,190.1 512.5,188.6 512.7,187.0 512.9,185.5 513.1,184.0 513.3,183.0 513.5,184.0 513.7,185.4 513.9,186.8 514.1,188.1 514.3,189.4 514.5,190.6 514.7,191.7 514.9,191.6 515.1,188.9 515.3,185.7 515.5,182.5 515.7,179.3 515.9,176.1 516.1,172.9 516.3,170.6 516.5,172.3 516.7,174.9 516.9,177.5 517.1,180.1 517.3,182.7 517.5,185.2 517.7,187.6 517.9,190.0 518.1,192.4 518.3,194.7 518.5,197.1 518.7,199.4 518.9,201.7 519.1,204.1 519.3,206.6 519.5,209.1 519.7,210.6 519.9,209.8 520.1,208.4 520.3,207.1 520.5,205.7 520.7,204.4 520.9,202.9 521.1,201.4 521.3,199.7 521.5,198.0 521.7,196.3 521.9,194.6 522.1,193.0 522.3,191.5 522.5,189.9 522.7,188.3 522.9,187.6 523.1,188.5 523.3,189.9 523.5,191.3 523.7,192.7 523.9,194.2 524.1,195.6 524.3,196.5 524.5,195.3 524.7,192.3 524.9,189.0 525.1,185.7 525.3,182.5 525.5,179.4 525.7,176.8 525.9,176.3 526.1,178.0 526.3,179.9 526.5,181.8 526.7,183.4 526.9,185.0 527.1,186.4 527.3,187.7 527.5,189.2 527.7,190.7 527.9,192.3 528.1,194.1 528.3,195.9 528.5,197.8 528.7,199.7 528.9,201.7 529.1,203.5 529.3,204.4 529.5,203.6 529.7,202.6 529.9,201.5 530.1,200.3 530.3,199.1 530.5,197.8 530.7,196.4 530.9,195.0 531.1,193.6 531.3,192.3 531.5,191.0 531.7,189.7 531.9,188.4 532.1,187.2 532.3,185.9 532.5,185.2" stroke="#000" stroke-width="1.3"/><polyline points="43.5,188.2 43.7,190.5 43.9,192.7 44.1,194.9 44.3,197.1 44.5,199.2 44.7,201.3 44.9,203.4 45.1,205.3 45.3,206.0 45.5,204.8 45.7,203.2 45.9,201.7 46.1,200.2 46.3,198.7 46.5,197.4 46.7,196.1 46.9,194.7 47.1,193.2 47.3,191.6 47.5,189.8 47.7,187.9 47.9,186.2 48.1,185.7 48.3,186.7 48.5,188.1 48.7,189.6 48.9,191.1 49.1,192.6 49.3,193.5 49.5,192.2 49.7,189.4 49.9,186.4 50.1,183.4 50.3,180.3 50.5,177.7 50.7,177.0 50.9,178.1 51.1,179.6 51.3,181.0 51.5,182.5 51.7,183.8 51.9,185.2 52.1,186.5 52.3,187.9 52.5,189.4 52.7,191.1 52.9,192.9 53.1,194.8 53.3,196.8 53.5,198.7 53.7,200.7 53.9,202.6 54.1,204.4 54.3,206.1 54.5,206.5 54.7,205.4 54.9,203.8 55.1,202.1 55.3,200.4 55.5,198.8 55.7,197.3 55.9,195.9 56.1,194.5 56.3,193.1 56.5,191.7 56.7,190.2 56.9,188.7 57.1,187.2 57.3,185.8 57.5,184.5 57.7,183.2 57.9,182.1 58.1,181.7 58.3,182.7 58.5,183.9 58.7,185.0 58.9,186.2 59.1,187.3 59.3,188.5 59.5,189.8 59.7,190.8 59.9,190.0 60.1,187.7 60.3,185.2 60.5,182.7 60.7,180.1 60.9,177.5 61.1,174.7 61.3,172.2 61.5,172.0 61.7,173.5 61.9,175.4 62.1,177.2 62.3,179.3 62.5,181.5 62.7,184.0 62.9,186.6 63.1,189.4 63.3,192.3 63.5,195.2 63.7,197.9 63.9,200.6 64.1,203.1 64.3,205.4 64.5,207.1 64.7,206.1 64.9,204.4 65.1,202.7 65.3,201.1 65.5,199.5 65.7,198.0 65.9,196.5 66.1,195.1 66.3,193.7 66.5,192.3 66.7,190.9 66.9,189.3 67.1,187.7 67.3,186.0 67.5,184.9 67.7,185.6 67.9,186.7 68.1,187.9 68.3,189.1 68.5,190.5 68.7,192.0 68.9,192.5 69.1,190.3 69.3,187.4 69.5,184.5 69.7,181.5 69.9,178.4 70.1,175.6 70.3,175.2 70.5,176.7 70.7,178.7 70.9,180.7 71.1,182.7 71.3,184.9 71.5,187.1 71.7,189.3 71.9,191.5 72.1,193.6 72.3,195.6 72.5,197.6 72.7,199.6 72.9,201.7 73.1,204.0 73.3,206.3 73.5,208.2 73.7,208.2 73.9,206.6 74.1,204.7 74.3,202.7 74.5,200.5 74.7,198.4 74.9,196.4 75.1,194.5 75.3,192.7 75.5,191.0 75.7,189.3 75.9,187.6 76.1,185.9 76.3,184.3 76.5,182.6 76.7,181.3 76.9,181.6 77.1,183.0 77.3,184.5 77.5,186.0 77.7,187.4 77.9,188.8 78.1,190.2 78.3,190.7 78.5,187.9 78.7,184.4 78.9,181.0 79.1,177.5 79.3,174.1 79.5,170.5 79.7,167.8 79.9,168.8 80.1,170.7 80.3,172.8 80.5,175.0 80.7,177.3 80.9,179.7 81.1,182.1 81.3,184.4 81.5,186.7 81.7,189.0 81.9,191.3 82.1,193.6 82.3,195.9 82.5,198.3 82.7,200.6 82.9,202.7 83.1,204.8 83.3,206.7 83.5,208.4 83.7,208.8 83.9,207.4 84.1,205.6 84.3,203.8 84.5,202.0 84.7,200.3 84.9,198.5 85.1,196.9 85.3,195.3 85.5,193.8 85.7,192.5 85.9,191.1 86.1,189.8 86.3,188.3 86.5,186.7 86.7,185.0 86.9,183.1 87.1,181.0 87.3,179.3 87.5,179.5 87.7,180.6 87.9,182.0 88.1,183.8 88.3,185.8 88.5,187.9 88.7,190.0 88.9,191.9 89.1,192.9 89.3,190.8 89.5,187.5 89.7,184.1 89.9,180.7 90.1,177.4 90.3,174.2 90.5,171.1 90.7,168.5 90.9,168.8 91.1,170.8 91.3,172.9 91.5,175.0 91.7,177.2 91.9,179.4 92.1,181.6 92.3,183.7 92.5,185.9 92.7,188.1 92.9,190.4 93.1,192.8 93.3,195.2 93.5,197.8 93.7,200.3 93.9,202.8 94.1,205.2 94.3,206.8 94.5,205.9 94.7,204.3 94.9,202.6 95.1,200.6 95.3,198.6 95.5,196.3 95.7,194.0 95.9,191.8 96.1,189.6 96.3,187.6 96.5,185.7 96.7,184.0 96.9,182.4 97.1,181.0 97.3,179.6 97.5,178.6 97.7,178.8 97.9,180.4 98.1,182.4 98.3,184.1 98.5,185.7 98.7,187.0 98.9,188.1 99.1,188.6 99.3,187.4 99.5,184.0 99.7,180.3 99.9,176.8 100.1,173.7 100.3,170.6 100.5,167.6 100.7,165.6 100.9,167.0 101.1,169.2 101.3,171.3 101.5,173.3 101.7,175.4 101.9,177.6 102.1,179.9 102.3,182.4 102.5,184.9 102.7,187.4 102.9,189.9 103.1,192.5 103.3,195.0 103.5,197.5 103.7,200.1 103.9,202.9 104.1,205.6 104.3,208.1 104.5,209.3 104.7,208.1 104.9,206.3 105.1,204.4 105.3,202.5 105.5,200.5 105.7,198.7 105.9,196.9 106.1,195.2 106.3,193.4 106.5,191.6 106.7,189.9 106.9,188.1 107.1,186.4 107.3,184.8 107.5,183.1 107.7,181.4 107.9,180.0 108.1,179.9 108.3,181.0 108.5,182.3 108.7,183.7 108.9,185.0 109.1,186.4 109.3,187.9 109.5,189.4 109.7,189.9 109.9,187.3 110.1,183.8 110.3,180.1 110.5,176.3 110.7,172.5 110.9,168.8 111.1,165.5 111.3,163.9 111.5,165.5 111.7,168.0 111.9,170.4 112.1,172.9 112.3,175.3 112.5,177.8 112.7,180.5 112.9,183.1 113.1,185.8 113.3,188.5 113.5,191.1 113.7,193.6 113.9,196.0 114.1,198.4 114.3,200.9 114.5,203.5 114.7,206.0 114.9,207.5 115.1,206.6 115.3,205.0 115.5,203.3 115.7,201.4 115.9,199.5 116.1,197.5 116.3,195.5 116.5,193.6 116.7,191.8 116.9,190.1 117.1,188.4 117.3,186.9 117.5,185.3 117.7,183.6 117.9,181.8 118.1,180.0 118.3,178.8 118.5,179.5 118.7,180.7 118.9,181.9 119.1,183.2 119.3,184.6 119.5,186.1 119.7,187.8 119.9,188.8 120.1,187.0 120.3,184.1 120.5,181.1 120.7,178.0 120.9,174.7 121.1,171.2 121.3,168.1 121.5,166.9 121.7,168.4 121.9,170.6 122.1,172.9 122.3,175.3 122.5,177.7 122.7,180.0 122.9,182.3 123.1,184.4 123.3,186.3 123.5,188.2 123.7,190.1 123.9,191.9 124.1,193.8 124.3,195.8 124.5,197.8 124.7,199.8 124.9,201.9 125.1,204.0 125.3,205.7 125.5,205.9 125.7,204.8 125.9,203.4 126.1,201.9 126.3,200.3 126.5,198.5 126.7,196.7 126.9,194.8 127.1,192.9 127.3,191.1 127.5,189.4 127.7,187.8 127.9,186.3 128.1,184.7 128.3,183.1 128.5,181.5 128.7,179.9 128.9,178.4 129.1,177.4 129.3,178.3 129.5,179.9 129.7,181.8 129.9,183.7 130.1,185.6 130.3,187.5 130.5,189.2 130.7,190.7 130.9,191.3 131.1,189.1 131.3,186.0 131.5,182.9 131.7,179.9 131.9,177.0 132.1,174.1 132.3,171.2 132.5,168.7 132.7,168.7 132.9,170.2 133.1,171.9 133.3,173.6 133.5,175.3 133.7,177.2 133.9,179.1 134.1,181.1 134.3,183.1 134.5,185.1 134.7,187.2 134.9,189.1 135.1,191.0 135.3,192.8 135.5,194.6 135.7,196.5 135.9,198.5 136.1,200.6 136.3,202.9 136.5,205.2 136.7,207.5 136.9,209.0 137.1,208.0 137.3,206.3 137.5,204.5 137.7,202.8 137.9,201.1 138.1,199.5 138.3,198.1 138.5,196.7 138.7,195.4 138.9,194.1 139.1,192.6 139.3,191.1 139.5,189.6 139.7,188.0 139.9,186.4 140.1,184.8 140.3,183.3 140.5,181.8 140.7,180.2 140.9,179.0 141.1,179.2 141.3,180.4 141.5,181.6 141.7,182.8 141.9,183.8 142.1,184.9 142.3,186.0 142.5,187.2 142.7,188.6 142.9,189.4 143.1,187.7 143.3,184.8 143.5,181.7 143.7,178.6 143.9,175.4 144.1,172.2 144.3,168.8 144.5,165.4 144.7,162.8 144.9,163.4 145.1,165.6 145.3,168.2 145.5,170.8 145.7,173.3 145.9,175.8 146.1,178.2 146.3,180.6 146.5,183.1 146.7,185.5 146.9,188.0 147.1,190.5 147.3,192.9 147.5,195.2 147.7,197.4 147.9,199.5 148.1,201.6 148.3,203.7 148.5,205.9 148.7,208.3 148.9,210.8 149.1,212.9 149.3,212.8 149.5,211.7 149.7,210.4 149.9,209.2 150.1,208.0 150.3,206.6 150.5,205.2 150.7,203.5 150.9,201.7 151.1,199.7 151.3,197.6 151.5,195.5 151.7,193.5 151.9,191.7 152.1,190.0 152.3,188.5 152.5,187.0 152.7,185.6 152.9,184.2 153.1,182.7 153.3,181.3 153.5,180.8 153.7,181.8 153.9,183.1 154.1,184.3 154.3,185.4 154.5,186.4 154.7,187.4 154.9,188.4 155.1,189.5 155.3,190.7 155.5,191.3 155.7,189.0 155.9,185.9 156.1,182.9 156.3,179.9 156.5,177.1 156.7,174.3 156.9,171.4 157.1,168.3 157.3,165.5 157.5,164.4 157.7,166.2 157.9,168.5 158.1,170.8 158.3,173.2 158.5,175.5 158.7,177.9 158.9,180.4 159.1,182.9 159.3,185.5 159.5,188.2 159.7,191.0 159.9,193.7 160.1,196.3 160.3,198.9 160.5,201.3 160.7,203.7 160.9,206.1 161.1,208.4 161.3,210.7 161.5,213.0 161.7,215.1 161.9,215.9 162.1,214.7 162.3,213.2 162.5,211.9 162.7,210.5 162.9,209.2 163.1,207.8 163.3,206.3 163.5,204.8 163.7,203.3 163.9,201.7 164.1,200.1 164.3,198.4 164.5,196.7 164.7,195.0 164.9,193.1 165.1,191.3 165.3,189.3 165.5,187.4 165.7,185.3 165.9,183.4 166.1,181.5 166.3,179.8 166.5,178.5 166.7,178.5 166.9,180.0 167.1,181.8 167.3,183.7 167.5,185.4 167.7,187.1 167.9,188.8 168.1,190.4 168.3,192.0 168.5,193.5 168.7,194.9 168.9,195.5 169.1,193.3 169.3,189.9 169.5,186.5 169.7,183.1 169.9,179.7 170.1,176.4 170.3,173.1 170.5,169.9 170.7,166.8 170.9,163.9 171.1,162.8 171.3,164.6 171.5,167.0 171.7,169.6 171.9,172.1 172.1,174.7 172.3,177.2 172.5,179.6 172.7,182.0 172.9,184.3 173.1,186.6 173.3,188.8 173.5,191.1 173.7,193.3 173.9,195.5 174.1,197.7 174.3,200.0 174.5,202.2 174.7,204.5 174.9,207.0 175.1,209.5 175.3,212.0 175.5,213.3 175.7,212.4 175.9,210.9 176.1,209.2 176.3,207.4 176.5,205.5 176.7,203.6 176.9,201.8 177.1,200.1 177.3,198.4 177.5,196.8 177.7,195.1 177.9,193.4 178.1,191.5 178.3,189.6 178.5,187.7 178.7,185.8 178.9,183.9 179.1,182.1 179.3,180.4 179.5,178.8 179.7,177.7 179.9,178.2 180.1,179.8 180.3,181.6 180.5,183.3 180.7,184.9 180.9,186.4 181.1,187.8 181.3,189.3 181.5,190.7 181.7,192.1 181.9,192.3 182.1,189.9 182.3,186.9 182.5,183.8 182.7,180.4 182.9,176.9 183.1,173.2 183.3,169.4 183.5,165.6 183.7,162.5 183.9,162.4 184.1,164.4 184.3,166.9 184.5,169.5 184.7,172.1 184.9,174.6 185.1,177.0 185.3,179.3 185.5,181.5 185.7,183.7 185.9,186.0 186.1,188.6 186.3,191.3 186.5,194.1 186.7,197.1 186.9,199.9 187.1,202.7 187.3,205.4 187.5,208.0 187.7,210.3 187.9,211.5 188.1,210.4 188.3,208.7 188.5,207.0 188.7,205.3 188.9,203.6 189.1,201.9 189.3,200.2 189.5,198.5 189.7,196.7 189.9,194.7 190.1,192.7 190.3,190.6 190.5,188.4 190.7,186.4 190.9,184.4 191.1,182.5 191.3,180.7 191.5,178.9 191.7,177.6 191.9,178.4 192.1,179.9 192.3,181.5 192.5,183.2 192.7,184.8 192.9,186.3 193.1,187.8 193.3,189.2 193.5,190.3 193.7,189.1 193.9,186.4 194.1,183.3 194.3,180.1 194.5,176.8 194.7,173.3 194.9,169.7 195.1,166.2 195.3,163.7 195.5,164.9 195.7,167.2 195.9,169.6 196.1,172.1 196.3,174.5 196.5,176.9 196.7,179.2 196.9,181.4 197.1,183.5 197.3,185.6 197.5,187.8 197.7,190.1 197.9,192.6 198.1,195.2 198.3,197.8 198.5,200.3 198.7,202.8 198.9,205.1 199.1,207.4 199.3,209.6 199.5,211.5 199.7,211.9 199.9,210.7 200.1,209.2 200.3,207.7 200.5,206.1 200.7,204.5 200.9,202.8 201.1,200.9 201.3,199.0 201.5,197.0 201.7,194.9 201.9,192.9 202.1,191.1 202.3,189.3 202.5,187.8 202.7,186.2 202.9,184.7 203.1,183.2 203.3,181.6 203.5,180.0 203.7,179.1 203.9,180.0 204.1,181.3 204.3,182.6 204.5,184.0 204.7,185.4 204.9,186.8 205.1,188.3 205.3,189.8 205.5,191.0 205.7,190.6 205.9,188.1 206.1,185.1 206.3,182.0 206.5,178.7 206.7,175.3 206.9,171.7 207.1,168.0 207.3,164.7 207.5,163.5 207.7,165.1 207.9,167.5 208.1,170.0 208.3,172.5 208.5,175.1 208.7,177.6 208.9,180.1 209.1,182.5 209.3,184.8 209.5,187.0 209.7,189.1 209.9,191.2 210.1,193.3 210.3,195.6 210.5,197.9 210.7,200.4 210.9,202.9 211.1,205.3 211.3,207.7 211.5,209.9 211.7,211.0 211.9,209.7 212.1,207.9 212.3,206.0 212.5,204.1 212.7,202.3 212.9,200.5 213.1,198.7 213.3,197.0 213.5,195.3 213.7,193.5 213.9,191.6 214.1,189.8 214.3,188.1 214.5,186.4 214.7,184.8 214.9,183.2 215.1,181.6 215.3,180.0 215.5,178.4 215.7,177.3 215.9,178.2 216.1,179.5 216.3,180.7 216.5,181.8 216.7,182.8 216.9,183.8 217.1,184.9 217.3,186.1 217.5,187.2 217.7,186.8 217.9,184.2 218.1,181.2 218.3,178.4 218.5,175.5 218.7,172.5 218.9,169.4 219.1,166.1 219.3,163.0 219.5,162.3 219.7,164.0 219.9,166.3 220.1,168.6 220.3,171.1 220.5,173.7 220.7,176.3 220.9,178.9 221.1,181.4 221.3,183.8 221.5,186.1 221.7,188.1 221.9,190.0 222.1,191.8 222.3,193.5 222.5,195.4 222.7,197.4 222.9,199.6 223.1,201.9 223.3,204.3 223.5,206.4 223.7,207.0 223.9,206.0 224.1,204.7 224.3,203.4 224.5,202.2 224.7,200.8 224.9,199.4 225.1,197.8 225.3,196.2 225.5,194.5 225.7,192.9 225.9,191.3 226.1,189.7 226.3,188.2 226.5,186.8 226.7,185.2 226.9,183.7 227.1,182.0 227.3,180.3 227.5,178.7 227.7,178.6 227.9,179.6 228.1,181.0 228.3,182.4 228.5,184.0 228.7,185.5 228.9,187.1 229.1,188.5 229.3,189.8 229.5,190.3 229.7,187.7 229.9,184.4 230.1,181.1 230.3,177.8 230.5,174.5 230.7,171.2 230.9,168.0 231.1,165.0 231.3,163.5 231.5,165.1 231.7,167.4 231.9,169.7 232.1,172.1 232.3,174.5 232.5,176.8 232.7,179.1 232.9,181.3 233.1,183.5 233.3,185.7 233.5,187.9 233.7,190.2 233.9,192.6 234.1,195.0 234.3,197.4 234.5,199.9 234.7,202.3 234.9,204.7 235.1,206.8 235.3,208.7 235.5,209.3 235.7,207.6 235.9,205.4 236.1,203.4 236.3,201.6 236.5,199.9 236.7,198.4 236.9,197.1 237.1,195.9 237.3,194.7 237.5,193.4 237.7,192.1 237.9,190.7 238.1,189.2 238.3,187.4 238.5,185.6 238.7,183.7 238.9,181.7 239.1,179.8 239.3,178.2 239.5,177.7 239.7,178.8 239.9,180.3 240.1,182.0 240.3,183.7 240.5,185.5 240.7,187.3 240.9,189.2 241.1,190.9 241.3,191.9 241.5,189.9 241.7,186.6 241.9,182.9 242.1,179.1 242.3,175.3 242.5,171.6 242.7,168.0 242.9,164.5 243.1,162.3 243.3,163.8 243.5,166.4 243.7,169.0 243.9,171.7 244.1,174.3 244.3,177.0 244.5,179.6 244.7,182.1 244.9,184.5 245.1,186.7 245.3,188.7 245.5,190.7 245.7,192.7 245.9,194.7 246.1,196.8 246.3,199.1 246.5,201.5 246.7,203.9 246.9,206.2 247.1,208.4 247.3,210.0 247.5,209.7 247.7,208.0 247.9,206.2 248.1,204.5 248.3,202.9 248.5,201.5 248.7,200.0 248.9,198.5 249.1,196.8 249.3,194.9 249.5,193.0 249.7,191.0 249.9,189.0 250.1,187.1 250.3,185.3 250.5,183.6 250.7,181.9 250.9,180.3 251.1,178.7 251.3,177.3 251.5,177.0 251.7,178.2 251.9,179.8 252.1,181.4 252.3,183.2 252.5,185.1 252.7,187.1 252.9,189.0 253.1,190.9 253.3,192.2 253.5,190.9 253.7,188.0 253.9,184.7 254.1,181.3 254.3,177.8 254.5,174.3 254.7,170.7 254.9,167.0 255.1,164.1 255.3,164.1 255.5,165.9 255.7,168.2 255.9,170.6 256.1,173.0 256.3,175.6 256.5,178.3 256.7,180.9 256.9,183.6 257.1,186.2 257.3,188.7 257.5,191.0 257.7,193.2 257.9,195.3 258.1,197.4 258.3,199.6 258.5,201.8 258.7,204.2 258.9,206.6 259.1,209.0 259.3,211.2 259.5,212.0 259.7,210.5 259.9,208.6 260.1,206.7 260.3,204.9 260.5,203.2 260.7,201.5 260.9,199.9 261.1,198.2 261.3,196.4 261.5,194.7 261.7,192.9 261.9,191.3 262.1,189.7 262.3,188.2 262.5,186.6 262.7,184.8 262.9,182.9 263.1,180.8 263.3,178.7 263.5,177.4 263.7,178.3 263.9,179.9 264.1,181.7 264.3,183.6 264.5,185.5 264.7,187.3 264.9,189.1 265.1,190.7 265.3,191.9 265.5,191.2 265.7,188.1 265.9,184.5 266.1,180.9 266.3,177.3 266.5,173.6 266.7,169.9 266.9,166.2 267.1,163.0 267.3,162.4 267.5,164.3 267.7,166.9 267.9,169.6 268.1,172.2 268.3,174.7 268.5,177.2 268.7,179.5 268.9,181.8 269.1,184.1 269.3,186.4 269.5,188.7 269.7,190.8 269.9,193.0 270.1,195.1 270.3,197.1 270.5,199.3 270.7,201.6 270.9,204.0 271.1,206.6 271.3,209.1 271.5,210.3 271.7,209.5 271.9,208.3 272.1,207.1 272.3,205.7 272.5,204.3 272.7,202.7 272.9,201.1 273.1,199.3 273.3,197.6 273.5,195.9 273.7,194.2 273.9,192.6 274.1,190.8 274.3,189.0 274.5,187.1 274.7,185.2 274.9,183.4 275.1,181.7 275.3,180.3 275.5,180.1 275.7,181.4 275.9,183.0 276.1,184.6 276.3,186.3 276.5,188.1 276.7,189.9 276.9,191.7 277.1,193.5 277.3,194.5 277.5,192.7 277.7,189.5 277.9,186.0 278.1,182.5 278.3,178.9 278.5,175.4 278.7,172.0 278.9,168.7 279.1,166.4 279.3,167.5 279.5,169.6 279.7,171.7 279.9,173.8 280.1,175.8 280.3,177.8 280.5,179.9 280.7,182.0 280.9,184.1 281.1,186.3 281.3,188.4 281.5,190.6 281.7,192.6 281.9,194.6 282.1,196.4 282.3,198.2 282.5,199.8 282.7,201.5 282.9,203.1 283.1,204.8 283.3,206.3 283.5,206.5 283.7,205.3 283.9,203.9 284.1,202.7 284.3,201.6 284.5,200.5 284.7,199.4 284.9,198.1 285.1,196.8 285.3,195.4 285.5,194.0 285.7,192.5 285.9,191.0 286.1,189.4 286.3,187.9 286.5,186.2 286.7,184.6 286.9,183.0 287.1,181.4 287.3,179.9 287.5,179.2 287.7,180.2 287.9,181.7 288.1,183.3 288.3,184.9 288.5,186.5 288.7,188.0 288.9,189.4 289.1,190.7 289.3,191.6 289.5,190.9 289.7,188.3 289.9,185.4 290.1,182.5 290.3,179.7 290.5,176.7 290.7,173.7 290.9,170.6 291.1,167.8 291.3,167.2 291.5,168.9 291.7,171.1 291.9,173.4 292.1,175.7 292.3,178.1 292.5,180.5 292.7,182.9 292.9,185.2 293.1,187.6 293.3,189.9 293.5,192.2 293.7,194.5 293.9,196.8 294.1,199.0 294.3,201.2 294.5,203.3 294.7,205.1 294.9,204.8 295.1,203.4 295.3,202.0 295.5,200.7 295.7,199.4 295.9,198.1 296.1,196.7 296.3,195.1 296.5,193.3 296.7,191.3 296.9,189.4 297.1,187.5 297.3,185.7 297.5,183.8 297.7,182.0 297.9,180.0 298.1,178.5 298.3,179.0 298.5,180.2 298.7,181.6 298.9,183.1 299.1,184.8 299.3,186.6 299.5,188.4 299.7,189.3 299.9,187.0 300.1,183.5 300.3,179.9 300.5,176.3 300.7,172.9 300.9,169.5 301.1,166.9 301.3,166.9 301.5,169.6 301.7,172.8 301.9,175.9 302.1,178.9 302.3,181.8 302.5,184.6 302.7,187.3 302.9,190.0 303.1,192.7 303.3,195.4 303.5,198.2 303.7,201.0 303.9,203.9 304.1,206.3 304.3,206.6 304.5,205.4 304.7,203.8 304.9,202.0 305.1,200.2 305.3,198.4 305.5,196.7 305.7,195.1 305.9,193.6 306.1,192.2 306.3,190.6 306.5,189.0 306.7,187.3 306.9,185.9 307.1,185.9 307.3,187.2 307.5,188.7 307.7,190.4 307.9,192.1 308.1,193.6 308.3,194.4 308.5,192.3 308.7,189.0 308.9,185.7 309.1,182.5 309.3,179.4 309.5,177.0 309.7,177.3 309.9,179.2 310.1,181.4 310.3,183.4 310.5,185.4 310.7,187.3 310.9,189.4 311.1,191.5 311.3,193.6 311.5,195.7 311.7,197.7 311.9,199.6 312.1,201.3 312.3,203.1 312.5,204.7 312.7,204.8 312.9,203.6 313.1,202.1 313.3,200.7 313.5,199.4 313.7,198.0 313.9,196.6 314.1,195.2 314.3,193.7 314.5,192.1 314.7,190.4 314.9,188.7 315.1,187.0 315.3,185.5 315.5,184.9 315.7,186.0 315.9,187.7 316.1,189.5 316.3,191.3 316.5,192.9 316.7,194.2 316.9,194.0 317.1,191.4 317.3,188.3 317.5,185.2 317.7,182.0 317.9,178.9 318.1,176.6 318.3,177.4 318.5,179.1 318.7,180.9 318.9,182.7 319.1,184.7 319.3,186.7 319.5,188.8 319.7,190.8 319.9,192.8 320.1,194.7 320.3,196.6 320.5,198.5 320.7,200.3 320.9,202.1 321.1,203.6 321.3,203.8 321.5,202.5 321.7,200.9 321.9,199.3 322.1,197.8 322.3,196.4 322.5,195.1 322.7,193.9 322.9,192.8 323.1,191.7 323.3,190.6 323.5,189.5 323.7,188.3 323.9,186.9 324.1,185.6 324.3,185.5 324.5,186.2 324.7,187.0 324.9,187.9 325.1,188.8 325.3,190.0 325.5,190.9 325.7,190.0 325.9,187.7 326.1,184.9 326.3,182.1 326.5,179.2 326.7,176.3 326.9,174.4 327.1,175.9 327.3,178.3 327.5,180.8 327.7,183.4 327.9,186.0 328.1,188.7 328.3,191.3 328.5,193.9 328.7,196.5 328.9,199.1 329.1,201.6 329.3,203.3 329.5,202.1 329.7,200.2 329.9,198.1 330.1,195.9 330.3,193.8 330.5,191.7 330.7,189.8 330.9,188.1 331.1,186.7 331.3,185.3 331.5,184.3 331.7,185.2 331.9,186.9 332.1,188.7 332.3,190.3 332.5,191.5 332.7,191.0 332.9,187.6 333.1,183.5 333.3,179.4 333.5,175.8 333.7,174.3 333.9,176.2 334.1,179.0 334.3,182.0 334.5,184.9 334.7,187.9 334.9,190.8 335.1,193.6 335.3,196.5 335.5,199.3 335.7,202.2 335.9,204.9 336.1,206.2 336.3,204.7 336.5,202.4 336.7,200.1 336.9,197.6 337.1,195.1 337.3,192.6 337.5,190.2 337.7,187.9 337.9,185.7 338.1,183.5 338.3,182.0 338.5,183.0 338.7,185.0 338.9,187.3 339.1,189.5 339.3,191.4 339.5,191.3 339.7,187.8 339.9,183.5 340.1,179.1 340.3,175.0 340.5,173.2 340.7,176.2 340.9,180.2 341.1,184.3 341.3,188.5 341.5,192.8 341.7,197.3 341.9,201.5 342.1,203.5 342.3,202.0 342.5,199.8 342.7,197.6 342.9,195.2 343.1,193.0 343.3,190.7 343.5,189.1 343.7,189.9 343.9,191.7 344.1,193.0 344.3,192.3 344.5,188.1 344.7,183.5 344.9,180.2 345.1,181.5 345.3,183.8 345.5,186.1 345.7,188.4 345.9,190.6 346.1,193.0 346.3,195.5 346.5,198.3 346.7,199.8 346.9,199.0 347.1,197.7 347.3,196.3 347.5,194.7 347.7,192.8 347.9,190.8 348.1,188.6 348.3,187.0 348.5,187.4 348.7,188.5 348.9,189.5 349.1,189.7 349.3,187.0 349.5,183.9 349.7,181.3 349.9,180.4 350.1,182.0 350.3,184.0 350.5,185.7 350.7,187.4 350.9,188.8 351.1,190.1 351.3,191.3 351.5,192.4 351.7,193.5 351.9,194.5 352.1,195.5 352.3,196.2 352.5,195.5 352.7,194.6 352.9,193.7 353.1,193.0 353.3,192.3 353.5,191.6 353.7,191.0 353.9,190.0 354.1,189.1 354.3,188.0 354.5,186.8 354.7,186.1 354.9,186.5 355.1,187.3 355.3,188.0 355.5,188.7 355.7,189.1 355.9,188.1 356.1,185.8 356.3,183.3 356.5,181.0 356.7,179.1 356.9,178.5 357.1,180.4 357.3,183.0 357.5,185.6 357.7,188.2 357.9,190.8 358.1,193.3 358.3,195.7 358.5,197.9 358.7,200.3 358.9,202.3 359.1,202.9 359.3,201.5 359.5,199.5 359.7,197.7 359.9,195.7 360.1,193.8 360.3,191.8 360.5,189.8 360.7,187.9 360.9,186.0 361.1,184.9 361.3,186.0 361.5,187.8 361.7,189.7 361.9,191.5 362.1,191.8 362.3,189.4 362.5,186.3 362.7,183.2 362.9,180.5 363.1,180.8 363.3,183.4 363.5,186.3 363.7,189.3 363.9,192.1 364.1,194.9 364.3,197.6 364.5,200.3 364.7,203.0 364.9,205.8 365.1,208.0 365.3,207.4 365.5,205.3 365.7,203.0 365.9,200.7 366.1,198.4 366.3,196.0 366.5,193.8 366.7,191.2 366.9,188.7 367.1,186.4 367.3,185.7 367.5,187.2 367.7,189.1 367.9,191.1 368.1,192.7 368.3,191.5 368.5,187.2 368.7,182.1 368.9,177.2 369.1,173.6 369.3,175.2 369.5,178.5 369.7,182.0 369.9,185.5 370.1,189.1 370.3,192.6 370.5,196.2 370.7,199.8 370.9,203.2 371.1,206.8 371.3,210.0 371.5,211.1 371.7,209.5 371.9,207.3 372.1,204.9 372.3,202.4 372.5,199.9 372.7,197.1 372.9,194.6 373.1,192.0 373.3,189.6 373.5,187.7 373.7,187.7 373.9,189.5 374.1,191.7 374.3,194.0 374.5,195.9 374.7,196.5 374.9,193.4 375.1,189.5 375.3,185.4 375.5,181.7 375.7,180.7 375.9,183.0 376.1,185.8 376.3,188.4 376.5,191.3 376.7,194.2 376.9,197.3 377.1,200.6 377.3,204.1 377.5,207.8 377.7,210.5 377.9,209.8 378.1,207.9 378.3,205.6 378.5,203.3 378.7,200.9 378.9,198.4 379.1,195.8 379.3,193.1 379.5,190.3 379.7,188.1 379.9,188.8 380.1,190.3 380.3,191.8 380.5,193.2 380.7,193.1 380.9,189.3 381.1,184.7 381.3,180.2 381.5,177.4 381.7,181.5 381.9,188.7 382.1,196.2 382.3,202.4 382.5,202.2 382.7,198.1 382.9,193.2 383.1,189.4 383.3,191.1 383.5,192.0 383.7,184.4 383.9,179.3 384.1,181.9 384.3,186.3 384.5,190.8 384.7,195.4 384.9,199.7 385.1,202.2 385.3,200.1 385.5,197.0 385.7,194.2 385.9,191.5 386.1,189.1 386.3,188.8 386.5,191.3 386.7,193.2 386.9,191.1 387.1,185.3 387.3,180.7 387.5,184.2 387.7,189.9 387.9,195.4 388.1,200.0 388.3,199.3 388.5,195.6 388.7,191.8 388.9,189.0 389.1,190.3 389.3,192.8 389.5,189.2 389.7,184.0 389.9,186.1 390.1,190.4 390.3,194.8 390.5,198.9 390.7,202.1 390.9,202.0 391.1,199.0 391.3,195.4 391.5,191.8 391.7,188.8 391.9,187.9 392.1,189.7 392.3,190.9 392.5,187.0 392.7,182.5 392.9,182.1 393.1,184.7 393.3,188.1 393.5,191.2 393.7,194.0 393.9,196.9 394.1,198.8 394.3,198.3 394.5,196.5 394.7,194.4 394.9,192.4 395.1,190.3 395.3,188.6 395.5,187.7 395.7,188.6 395.9,190.0 396.1,190.3 396.3,187.5 396.5,184.4 396.7,183.2 396.9,185.9 397.1,189.6 397.3,193.1 397.5,195.8 397.7,194.6 397.9,192.7 398.1,190.5 398.3,189.0 398.5,190.2 398.7,190.7 398.9,187.4 399.1,185.2 399.3,186.5 399.5,188.8 399.7,191.1 399.9,192.4 400.1,191.5 400.3,190.3 400.5,189.1 400.7,189.1 400.9,189.9 401.1,188.6 401.3,186.4 401.5,187.8 401.7,190.4 401.9,192.8 402.1,194.1 402.3,192.7 402.5,190.7 402.7,189.0 402.9,189.2 403.1,189.1 403.3,186.2 403.5,185.4 403.7,186.9 403.9,189.0 404.1,191.0 404.3,192.6 404.5,191.8 404.7,189.9 404.9,188.0 405.1,186.1 405.3,185.3 405.5,186.7 405.7,187.6 405.9,185.1 406.1,182.9 406.3,185.6 406.5,189.7 406.7,193.8 406.9,197.8 407.1,201.4 407.3,203.2 407.5,200.8 407.7,197.3 407.9,193.6 408.1,190.2 408.3,187.4 408.5,187.8 408.7,190.4 408.9,191.9 409.1,187.3 409.3,182.1 409.5,181.6 409.7,185.1 409.9,189.2 410.1,193.2 410.3,197.1 410.5,199.6 410.7,198.1 410.9,195.6 411.1,193.0 411.3,190.4 411.5,188.4 411.7,188.9 411.9,189.9 412.1,188.8 412.3,184.7 412.5,181.4 412.7,182.8 412.9,185.4 413.1,188.2 413.3,191.0 413.5,194.1 413.7,196.8 413.9,198.3 414.1,197.2 414.3,195.5 414.5,193.6 414.7,191.6 414.9,189.5 415.1,187.8 415.3,188.0 415.5,189.3 415.7,190.0 415.9,187.7 416.1,183.1 416.3,179.4 416.5,180.9 416.7,185.1 416.9,189.8 417.1,194.6 417.3,199.2 417.5,202.1 417.7,200.6 417.9,197.9 418.1,195.3 418.3,192.7 418.5,190.6 418.7,191.3 418.9,193.2 419.1,193.2 419.3,188.4 419.5,183.7 419.7,184.3 419.9,187.3 420.1,190.6 420.3,194.2 420.5,197.8 420.7,200.6 420.9,199.8 421.1,197.2 421.3,194.4 421.5,191.7 421.7,189.2 421.9,188.0 422.1,190.0 422.3,192.3 422.5,191.4 422.7,186.3 422.9,182.0 423.1,184.4 423.3,189.4 423.5,194.5 423.7,199.5 423.9,203.3 424.1,202.9 424.3,199.5 424.5,195.7 424.7,192.0 424.9,189.3 425.1,190.1 425.3,192.2 425.5,191.3 425.7,186.4 425.9,183.5 426.1,186.9 426.3,191.9 426.5,196.8 426.7,201.6 426.9,205.0 427.1,202.7 427.3,198.8 427.5,194.7 427.7,190.6 427.9,187.7 428.1,189.9 428.3,192.3 428.5,189.2 428.7,182.8 428.9,179.7 429.1,181.5 429.3,184.3 429.5,187.1 429.7,190.0 429.9,192.8 430.1,195.7 430.3,198.5 430.5,201.3 430.7,203.9 430.9,206.0 431.1,205.7 431.3,203.6 431.5,201.1 431.7,198.7 431.9,196.4 432.1,194.0 432.3,191.7 432.5,189.3 432.7,186.8 432.9,184.6 433.1,184.0 433.3,185.5 433.5,187.6 433.7,189.7 433.9,191.4 434.1,190.5 434.3,186.9 434.5,182.6 434.7,178.3 434.9,175.2 435.1,177.0 435.3,180.2 435.5,183.6 435.7,186.8 435.9,190.1 436.1,193.4 436.3,196.8 436.5,200.3 436.7,203.9 436.9,206.8 437.1,206.9 437.3,204.9 437.5,202.6 437.7,200.3 437.9,198.0 438.1,195.7 438.3,193.4 438.5,191.1 438.7,188.6 438.9,186.7 439.1,187.4 439.3,189.0 439.5,190.6 439.7,192.0 439.9,191.7 440.1,187.8 440.3,183.0 440.5,178.2 440.7,174.5 440.9,175.4 441.1,177.9 441.3,180.5 441.5,183.2 441.7,186.0 441.9,188.8 442.1,191.7 442.3,194.7 442.5,197.6 442.7,200.6 442.9,203.6 443.1,206.6 443.3,208.6 443.5,207.4 443.7,205.3 443.9,203.2 444.1,200.9 444.3,198.6 444.5,196.2 444.7,193.6 444.9,191.1 445.1,188.6 445.3,186.3 445.5,184.0 445.7,182.6 445.9,183.8 446.1,185.9 446.3,187.9 446.5,189.9 446.7,191.7 446.9,192.1 447.1,188.5 447.3,183.9 447.5,179.4 447.7,175.1 447.9,171.6 448.1,171.8 448.3,174.1 448.5,176.7 448.7,179.1 448.9,181.5 449.1,183.9 449.3,186.3 449.5,188.9 449.7,191.5 449.9,194.1 450.1,196.9 450.3,199.6 450.5,202.3 450.7,204.4 450.9,204.3 451.1,202.8 451.3,201.0 451.5,199.1 451.7,197.2 451.9,195.3 452.1,193.4 452.3,191.5 452.5,189.7 452.7,188.1 452.9,186.5 453.1,185.0 453.3,183.8 453.5,183.9 453.7,185.4 453.9,187.1 454.1,188.7 454.3,190.1 454.5,191.4 454.7,191.5 454.9,188.7 455.1,185.2 455.3,181.7 455.5,178.1 455.7,174.7 455.9,173.1 456.1,174.5 456.3,176.8 456.5,179.1 456.7,181.7 456.9,184.5 457.1,187.4 457.3,190.4 457.5,193.4 457.7,196.4 457.9,199.1 458.1,201.6 458.3,204.0 458.5,206.0 458.7,206.6 458.9,204.9 459.1,202.8 459.3,200.9 459.5,199.0 459.7,197.3 459.9,195.6 460.1,194.0 460.3,192.5 460.5,191.0 460.7,189.7 460.9,188.3 461.1,186.9 461.3,186.0 461.5,187.1 461.7,188.6 461.9,189.9 462.1,191.1 462.3,192.3 462.5,192.9 462.7,191.2 462.9,187.7 463.1,183.9 463.3,180.3 463.5,176.7 463.7,174.1 463.9,174.9 464.1,177.5 464.3,180.3 464.5,183.1 464.7,185.9 464.9,188.7 465.1,191.6 465.3,194.6 465.5,197.6 465.7,200.7 465.9,203.4 466.1,204.1 466.3,202.7 466.5,200.9 466.7,199.1 466.9,197.2 467.1,195.4 467.3,193.6 467.5,191.9 467.7,190.2 467.9,188.5 468.1,187.3 468.3,187.9 468.5,189.4 468.7,190.9 468.9,192.6 469.1,193.7 469.3,192.2 469.5,189.0 469.7,185.5 469.9,181.9 470.1,179.1 470.3,179.6 470.5,180.9 470.7,182.2 470.9,183.6 471.1,185.1 471.3,186.6 471.5,188.2 471.7,189.8 471.9,191.3 472.1,192.9 472.3,194.2 472.5,195.5 472.7,196.7 472.9,197.9 473.1,199.1 473.3,200.3 473.5,201.6 473.7,202.5 473.9,202.3 474.1,201.3 474.3,200.1 474.5,198.9 474.7,197.8 474.9,196.7 475.1,195.6 475.3,194.5 475.5,193.4 475.7,192.3 475.9,191.2 476.1,190.3 476.3,189.5 476.5,188.8 476.7,188.1 476.9,187.5 477.1,186.9 477.3,186.8 477.5,187.5 477.7,188.4 477.9,189.4 478.1,190.3 478.3,191.3 478.5,192.3 478.7,193.3 478.9,193.8 479.1,192.7 479.3,191.1 479.5,189.6 479.7,188.1 479.9,186.6 480.1,184.9 480.3,183.3 480.5,182.7 480.7,183.9 480.9,185.5 481.1,187.0 481.3,188.6 481.5,190.2 481.7,192.0 481.9,193.9 482.1,196.0 482.3,198.2 482.5,200.6 482.7,203.0 482.9,205.0 483.1,204.9 483.3,203.1 483.5,200.8 483.7,198.4 483.9,195.9 484.1,193.4 484.3,191.0 484.5,188.6 484.7,186.2 484.9,183.9 485.1,181.6 485.3,179.8 485.5,179.9 485.7,181.6 485.9,183.6 486.1,185.8 486.3,187.9 486.5,189.1 486.7,186.7 486.9,182.8 487.1,178.5 487.3,174.4 487.5,170.9 487.7,170.5 487.9,173.1 488.1,176.3 488.3,179.4 488.5,182.4 488.7,185.3 488.9,188.2 489.1,191.0 489.3,193.9 489.5,196.7 489.7,199.6 489.9,202.4 490.1,204.6 490.3,204.6 490.5,202.8 490.7,200.8 490.9,198.9 491.1,197.2 491.3,195.6 491.5,194.1 491.7,192.6 491.9,191.0 492.1,189.2 492.3,187.3 492.5,185.6 492.7,185.3 492.9,186.7 493.1,188.5 493.3,190.4 493.5,192.3 493.7,193.6 493.9,192.5 494.1,189.2 494.3,185.4 494.5,181.6 494.7,177.9 494.9,175.5 495.1,176.5 495.3,178.3 495.5,180.1 495.7,182.1 495.9,184.1 496.1,186.2 496.3,188.3 496.5,190.5 496.7,192.6 496.9,194.6 497.1,196.4 497.3,198.1 497.5,199.7 497.7,201.3 497.9,203.0 498.1,204.8 498.3,206.8 498.5,208.8 498.7,210.7 498.9,211.3 499.1,210.0 499.3,208.4 499.5,206.7 499.7,205.0 499.9,203.2 500.1,201.2 500.3,199.1 500.5,196.8 500.7,194.6 500.9,192.3 501.1,190.1 501.3,188.0 501.5,186.0 501.7,184.1 501.9,182.2 502.1,180.5 502.3,178.7 502.5,177.4 502.7,177.7 502.9,179.1 503.1,180.6 503.3,182.1 503.5,183.6 503.7,185.1 503.9,186.6 504.1,188.1 504.3,189.0 504.5,187.2 504.7,183.9 504.9,180.3 505.1,177.0 505.3,173.7 505.5,170.5 505.7,167.4 505.9,164.6 506.1,164.0 506.3,166.0 506.5,168.4 506.7,170.8 506.9,173.1 507.1,175.5 507.3,178.1 507.5,180.8 507.7,183.6 507.9,186.5 508.1,189.2 508.3,191.9 508.5,194.4 508.7,196.9 508.9,199.2 509.1,201.6 509.3,203.6 509.5,203.7 509.7,202.4 509.9,200.8 510.1,199.3 510.3,197.7 510.5,196.1 510.7,194.4 510.9,192.6 511.1,190.9 511.3,189.2 511.5,187.5 511.7,185.8 511.9,184.0 512.1,182.2 512.3,180.3 512.5,178.6 512.7,178.5 512.9,179.6 513.1,181.0 513.3,182.5 513.5,184.3 513.7,186.2 513.9,188.1 514.1,189.3 514.3,187.2 514.5,184.3 514.7,181.3 514.9,178.1 515.1,174.8 515.3,171.4 515.5,168.8 515.7,169.8 515.9,172.0 516.1,174.4 516.3,176.9 516.5,179.4 516.7,182.0 516.9,184.7 517.1,187.3 517.3,189.9 517.5,192.5 517.7,195.0 517.9,197.5 518.1,200.0 518.3,202.4 518.5,204.7 518.7,207.0 518.9,208.8 519.1,209.0 519.3,207.6 519.5,205.8 519.7,204.1 519.9,202.5 520.1,200.9 520.3,199.3 520.5,197.8 520.7,196.1 520.9,194.5 521.1,192.8 521.3,191.2 521.5,189.4 521.7,187.6 521.9,185.8 522.1,184.1 522.3,182.9 522.5,183.7 522.7,185.0 522.9,186.4 523.1,187.8 523.3,189.1 523.5,190.5 523.7,191.9 523.9,192.6 524.1,190.6 524.3,187.9 524.5,185.1 524.7,182.2 524.9,179.2 525.1,176.0 525.3,173.4 525.5,173.5 525.7,175.2 525.9,177.2 526.1,179.3 526.3,181.5 526.5,183.7 526.7,185.9 526.9,188.0 527.1,190.0 527.3,191.8 527.5,193.5 527.7,195.1 527.9,196.5 528.1,197.9 528.3,199.2 528.5,200.3 528.7,200.2 528.9,199.0 529.1,197.7 529.3,196.5 529.5,195.3 529.7,194.1 529.9,192.8 530.1,191.3 530.3,189.8 530.5,188.3 530.7,186.8 530.9,185.3 531.1,183.9 531.3,182.5 531.5,181.2 531.7,180.7 531.9,181.7 532.1,183.1 532.3,184.5 532.5,185.8" stroke="#0f0" stroke-width="1.2" stroke-dasharray="6 2 1 2.6"/></g><g clip-path="url(#cu)" fill="none" stroke-linejoin="round"><polyline points="43.5,70.2 43.7,68.7 43.9,68.2 44.1,71.1 44.3,73.8 44.5,76.6 44.7,79.0 44.9,81.1 45.1,84.4 45.3,88.8 45.5,93.0 45.7,97.3 45.9,101.6 46.1,106.1 46.3,106.6 46.5,103.1 46.7,99.6 46.9,96.3 47.1,93.0 47.3,89.7 47.5,86.5 47.7,83.4 47.9,73.6 48.1,63.8 48.3,55.7 48.5,58.8 48.7,61.9 48.9,64.7 49.1,67.5 49.3,70.2 49.5,72.7 49.7,75.3 49.9,77.7 50.1,77.2 50.3,75.8 50.5,74.3 50.7,72.9 50.9,71.6 51.1,70.0 51.3,68.4 51.5,68.9 51.7,69.9 51.9,71.0 52.1,72.2 52.3,73.4 52.5,74.8 52.7,76.1 52.9,76.8 53.1,75.8 53.3,77.8 53.5,82.6 53.7,87.5 53.9,92.2 54.1,96.9 54.3,101.6 54.5,106.1 54.7,102.7 54.9,99.2 55.1,96.0 55.3,92.9 55.5,89.6 55.7,86.4 55.9,83.3 56.1,79.7 56.3,75.5 56.5,71.5 56.7,67.5 56.9,63.3 57.1,60.8 57.3,63.5 57.5,66.3 57.7,69.0 57.9,71.5 58.1,73.9 58.3,76.1 58.5,78.1 58.7,80.0 58.9,81.7 59.1,83.1 59.3,80.9 59.5,78.5 59.7,76.5 59.9,74.5 60.1,72.5 60.3,70.5 60.5,68.6 60.7,66.7 60.9,66.1 61.1,67.5 61.3,69.0 61.5,70.3 61.7,71.7 61.9,73.2 62.1,74.6 62.3,76.0 62.5,77.6 62.7,78.8 62.9,78.5 63.1,78.2 63.3,77.9 63.5,80.3 63.7,85.3 63.9,90.4 64.1,95.3 64.3,100.3 64.5,104.8 64.7,109.4 64.9,105.1 65.1,101.0 65.3,97.3 65.5,93.8 65.7,90.7 65.9,87.6 66.1,84.4 66.3,79.1 66.5,71.3 66.7,63.7 66.9,55.5 67.1,59.1 67.3,62.6 67.5,65.9 67.7,69.3 67.9,72.6 68.1,75.9 68.3,79.3 68.5,83.0 68.7,85.0 68.9,81.4 69.1,77.9 69.3,74.4 69.5,70.8 69.7,67.2 69.9,63.8 70.1,60.4 70.3,61.0 70.5,63.2 70.7,65.7 70.9,68.3 71.1,70.9 71.3,73.8 71.5,76.8 71.7,79.5 71.9,79.7 72.1,79.2 72.3,81.3 72.5,86.3 72.7,91.2 72.9,95.8 73.1,100.6 73.3,105.1 73.5,109.7 73.7,105.9 73.9,102.2 74.1,98.4 74.3,94.7 74.5,91.0 74.7,87.3 74.9,83.6 75.1,78.7 75.3,72.9 75.5,67.3 75.7,62.0 75.9,56.9 76.1,58.4 76.3,61.9 76.5,65.3 76.7,68.4 76.9,71.1 77.1,73.8 77.3,76.3 77.5,78.8 77.7,81.4 77.9,84.1 78.1,81.4 78.3,78.6 78.5,75.8 78.7,73.1 78.9,70.3 79.1,67.5 79.3,64.7 79.5,62.1 79.7,62.4 79.9,64.4 80.1,66.5 80.3,68.8 80.5,71.2 80.7,73.6 80.9,76.2 81.1,78.6 81.3,80.7 81.5,80.8 81.7,80.2 81.9,79.3 82.1,81.0 82.3,85.2 82.5,89.4 82.7,93.4 82.9,97.3 83.1,101.5 83.3,105.6 83.5,101.5 83.7,97.7 83.9,94.2 84.1,91.0 84.3,88.0 84.5,85.3 84.7,82.5 84.9,78.9 85.1,74.8 85.3,70.6 85.5,66.3 85.7,62.3 85.9,58.1 86.1,60.4 86.3,62.7 86.5,65.0 86.7,67.3 86.9,69.2 87.1,71.0 87.3,72.7 87.5,74.0 87.7,75.5 87.9,76.8 88.1,76.4 88.3,75.0 88.5,73.7 88.7,72.4 88.9,71.3 89.1,70.4 89.3,69.2 89.5,68.3 89.7,67.6 89.9,68.6 90.1,70.3 90.3,72.1 90.5,73.8 90.7,75.5 90.9,77.0 91.1,78.2 91.3,79.4 91.5,80.3 91.7,80.3 91.9,79.0 92.1,77.4 92.3,75.9 92.5,76.9 92.7,80.8 92.9,85.1 93.1,89.7 93.3,94.6 93.5,99.6 93.7,105.0 93.9,102.5 94.1,100.1 94.3,97.6 94.5,94.7 94.7,91.9 94.9,89.0 95.1,85.7 95.3,81.1 95.5,75.3 95.7,69.2 95.9,63.3 96.1,57.5 96.3,52.7 96.5,54.3 96.7,56.5 96.9,58.7 97.1,60.9 97.3,63.1 97.5,65.5 97.7,68.0 97.9,70.8 98.1,73.6 98.3,76.5 98.5,76.6 98.7,76.1 98.9,75.8 99.1,75.1 99.3,74.4 99.5,73.5 99.7,72.5 99.9,71.4 100.1,70.5 100.3,71.2 100.5,71.8 100.7,72.3 100.9,72.8 101.1,73.3 101.3,74.0 101.5,74.8 101.7,75.8 101.9,76.8 102.1,76.6 102.3,76.2 102.5,75.8 102.7,75.5 102.9,81.2 103.1,87.5 103.3,93.7 103.5,100.0 103.7,106.2 103.9,112.3 104.1,113.5 104.3,109.7 104.5,105.7 104.7,101.5 104.9,96.7 105.1,91.6 105.3,86.4 105.5,81.3 105.7,76.1 105.9,71.2 106.1,66.8 106.3,62.9 106.5,59.4 106.7,55.9 106.9,58.5 107.1,61.7 107.3,64.9 107.5,68.0 107.7,70.6 107.9,73.1 108.1,75.3 108.3,77.2 108.5,79.0 108.7,80.7 108.9,82.5 109.1,80.0 109.3,77.6 109.5,75.5 109.7,73.8 109.9,72.2 110.1,70.5 110.3,68.9 110.5,67.5 110.7,66.0 110.9,66.7 111.1,68.4 111.3,69.9 111.5,71.4 111.7,73.1 111.9,74.8 112.1,76.2 112.3,77.9 112.5,79.4 112.7,80.9 112.9,80.5 113.1,79.8 113.3,79.0 113.5,78.4 113.7,80.6 113.9,85.8 114.1,91.4 114.3,97.1 114.5,102.4 114.7,107.7 114.9,112.6 115.1,108.2 115.3,103.6 115.5,99.0 115.7,94.7 115.9,90.8 116.1,87.2 116.3,83.7 116.5,80.0 116.7,75.8 116.9,71.3 117.1,66.9 117.3,62.4 117.5,58.8 117.7,61.8 117.9,64.9 118.1,67.7 118.3,70.3 118.5,72.5 118.7,74.7 118.9,77.0 119.1,79.3 119.3,81.8 119.5,84.5 119.7,82.7 119.9,79.7 120.1,77.0 120.3,74.4 120.5,71.9 120.7,69.4 120.9,67.2 121.1,64.7 121.3,62.5 121.5,64.5 121.7,66.5 121.9,68.3 122.1,70.0 122.3,71.5 122.5,72.9 122.7,74.5 122.9,75.9 123.1,77.4 123.3,76.9 123.5,76.1 123.7,75.0 123.9,74.2 124.1,78.4 124.3,82.8 124.5,87.2 124.7,91.8 124.9,96.5 125.1,101.5 125.3,102.8 125.5,100.4 125.7,98.1 125.9,95.7 126.1,93.3 126.3,90.6 126.5,87.7 126.7,84.6 126.9,79.2 127.1,73.6 127.3,68.0 127.5,62.2 127.7,56.6 127.9,54.8 128.1,57.3 128.3,59.6 128.5,61.8 128.7,64.2 128.9,66.7 129.1,69.1 129.3,71.7 129.5,74.5 129.7,77.5 129.9,80.3 130.1,78.6 130.3,77.1 130.5,75.6 130.7,73.8 130.9,72.2 131.1,70.5 131.3,68.8 131.5,67.1 131.7,66.3 131.9,68.2 132.1,69.9 132.3,71.2 132.5,72.5 132.7,73.6 132.9,74.5 133.1,75.2 133.3,75.9 133.5,76.8 133.7,75.9 133.9,74.8 134.1,73.9 134.3,73.1 134.5,78.8 134.7,84.6 134.9,90.8 135.1,97.2 135.3,103.7 135.5,110.2 135.7,111.5 135.9,107.7 136.1,103.8 136.3,99.9 136.5,96.0 136.7,92.0 136.9,87.8 137.1,83.6 137.3,80.6 137.5,77.4 137.7,74.1 137.9,70.7 138.1,67.0 138.3,63.6 138.5,60.3 138.7,57.3 138.9,57.1 139.1,58.6 139.3,60.3 139.5,62.0 139.7,63.5 139.9,65.1 140.1,66.5 140.3,68.5 140.5,70.5 140.7,72.7 140.9,74.8 141.1,76.9 141.3,78.8 141.5,78.5 141.7,77.5 141.9,76.4 142.1,75.1 142.3,73.6 142.5,72.1 142.7,70.6 142.9,69.3 143.1,68.2 143.3,67.4 143.5,67.1 143.7,68.4 143.9,69.8 144.1,71.3 144.3,73.0 144.5,74.5 144.7,76.0 144.9,77.3 145.1,78.4 145.3,79.5 145.5,80.6 145.7,81.5 145.9,81.5 146.1,80.8 146.3,80.0 146.5,79.3 146.7,78.2 146.9,77.1 147.1,78.5 147.3,82.6 147.5,86.9 147.7,91.4 147.9,96.5 148.1,101.7 148.3,107.3 148.5,104.5 148.7,101.9 148.9,99.2 149.1,96.4 149.3,93.8 149.5,90.7 149.7,87.4 149.9,83.9 150.1,80.3 150.3,76.4 150.5,72.2 150.7,67.6 150.9,63.1 151.1,58.9 151.3,54.9 151.5,53.6 151.7,55.2 151.9,57.1 152.1,59.1 152.3,61.4 152.5,64.1 152.7,66.8 152.9,69.7 153.1,72.1 153.3,74.9 153.5,77.3 153.7,79.4 153.9,80.9 154.1,79.8 154.3,78.5 154.5,76.9 154.7,75.3 154.9,73.8 155.1,72.3 155.3,70.9 155.5,69.4 155.7,68.2 155.9,67.1 156.1,67.1 156.3,68.1 156.5,69.4 156.7,70.9 156.9,72.4 157.1,74.2 157.3,75.8 157.5,77.4 157.7,78.8 157.9,79.8 158.1,80.8 158.3,81.1 158.5,80.4 158.7,79.7 158.9,79.0 159.1,78.3 159.3,77.6 159.5,80.2 159.7,86.0 159.9,91.6 160.1,97.5 160.3,103.1 160.5,108.7 160.7,114.1 160.9,109.4 161.1,104.7 161.3,100.3 161.5,96.0 161.7,92.2 161.9,88.3 162.1,84.7 162.3,81.8 162.5,79.5 162.7,76.8 162.9,74.1 163.1,71.0 163.3,67.8 163.5,64.5 163.7,61.1 163.9,57.7 164.1,54.1 164.3,54.3 164.5,56.3 164.7,58.2 164.9,60.2 165.1,62.4 165.3,64.6 165.5,66.6 165.7,68.5 165.9,70.3 166.1,72.1 166.3,73.9 166.5,76.1 166.7,78.6 166.9,81.1 167.1,80.3 167.3,79.4 167.5,78.4 167.7,77.2 167.9,75.7 168.1,74.2 168.3,72.6 168.5,70.7 168.7,68.7 168.9,66.7 169.1,64.8 169.3,63.4 169.5,64.2 169.7,65.1 169.9,65.5 170.1,66.1 170.3,67.0 170.5,68.3 170.7,69.9 170.9,71.6 171.1,73.6 171.3,75.4 171.5,76.9 171.7,78.4 171.9,78.3 172.1,78.3 172.3,78.2 172.5,77.9 172.7,77.6 172.9,77.4 173.1,77.1 173.3,80.0 173.5,86.1 173.7,92.4 173.9,98.8 174.1,105.3 174.3,111.5 174.5,118.0 174.7,113.1 174.9,108.2 175.1,103.4 175.3,98.6 175.5,93.8 175.7,89.2 175.9,84.8 176.1,81.2 176.3,78.2 176.5,75.4 176.7,72.8 176.9,70.3 177.1,67.8 177.3,65.3 177.5,62.7 177.7,62.7 177.9,65.2 178.1,67.5 178.3,69.7 178.5,72.0 178.7,74.1 178.9,76.3 179.1,78.2 179.3,80.0 179.5,81.7 179.7,83.2 179.9,84.9 180.1,86.4 180.3,84.0 180.5,82.0 180.7,80.0 180.9,78.1 181.1,76.1 181.3,73.8 181.5,71.3 181.7,69.0 181.9,66.7 182.1,64.4 182.3,64.2 182.5,65.7 182.7,67.1 182.9,68.2 183.1,69.6 183.3,70.7 183.5,71.7 183.7,72.6 183.9,73.6 184.1,74.6 184.3,75.8 184.5,76.5 184.7,76.2 184.9,76.0 185.1,75.9 185.3,75.9 185.5,76.0 185.7,78.9 185.9,84.8 186.1,90.8 186.3,96.6 186.5,102.2 186.7,107.6 186.9,113.0 187.1,108.7 187.3,104.3 187.5,100.0 187.7,95.7 187.9,91.3 188.1,87.1 188.3,82.8 188.5,78.3 188.7,73.9 188.9,69.5 189.1,65.4 189.3,61.5 189.5,58.0 189.7,54.6 189.9,54.7 190.1,57.8 190.3,60.8 190.5,63.8 190.7,66.7 190.9,69.3 191.1,71.7 191.3,74.0 191.5,76.1 191.7,78.0 191.9,80.0 192.1,81.6 192.3,79.8 192.5,77.8 192.7,75.9 192.9,74.0 193.1,72.2 193.3,70.4 193.5,68.6 193.7,66.8 193.9,65.1 194.1,63.5 194.3,65.2 194.5,66.7 194.7,68.5 194.9,70.2 195.1,72.0 195.3,73.5 195.5,75.1 195.7,76.8 195.9,78.5 196.1,80.4 196.3,81.2 196.5,81.3 196.7,81.1 196.9,80.8 197.1,79.8 197.3,81.8 197.5,86.7 197.7,91.5 197.9,96.5 198.1,101.6 198.3,106.9 198.5,112.6 198.7,108.3 198.9,104.3 199.1,100.4 199.3,96.6 199.5,92.7 199.7,88.7 199.9,84.6 200.1,80.8 200.3,77.3 200.5,73.9 200.7,70.4 200.9,66.8 201.1,62.8 201.3,58.7 201.5,55.5 201.7,56.5 201.9,57.4 202.1,58.5 202.3,59.6 202.5,60.9 202.7,62.5 202.9,64.2 203.1,66.2 203.3,68.1 203.5,70.2 203.7,72.2 203.9,73.3 204.1,72.7 204.3,72.3 204.5,71.7 204.7,71.4 204.9,71.0 205.1,70.7 205.3,70.4 205.5,70.0 205.7,69.4 205.9,69.3 206.1,70.1 206.3,70.6 206.5,71.2 206.7,71.6 206.9,72.4 207.1,73.0 207.3,73.7 207.5,74.6 207.7,75.6 207.9,76.8 208.1,77.1 208.3,77.3 208.5,77.7 208.7,78.0 208.9,78.5 209.1,81.5 209.3,87.1 209.5,92.5 209.7,97.8 209.9,102.9 210.1,108.2 210.3,113.4 210.5,109.2 210.7,105.1 210.9,100.8 211.1,96.5 211.3,92.2 211.5,87.9 211.7,83.7 211.9,80.2 212.1,77.3 212.3,74.6 212.5,71.9 212.7,69.1 212.9,66.3 213.1,63.2 213.3,60.0 213.5,60.4 213.7,62.6 213.9,64.8 214.1,67.4 214.3,69.6 214.5,71.7 214.7,73.2 214.9,74.3 215.1,75.0 215.3,75.3 215.5,75.5 215.7,76.1 215.9,75.7 216.1,74.6 216.3,73.6 216.5,72.7 216.7,72.1 216.9,71.5 217.1,71.1 217.3,70.7 217.5,70.2 217.7,69.4 217.9,68.8 218.1,70.1 218.3,70.9 218.5,71.9 218.7,72.8 218.9,73.6 219.1,74.6 219.3,75.6 219.5,76.7 219.7,77.6 219.9,78.5 220.1,78.6 220.3,77.8 220.5,76.9 220.7,76.1 220.9,75.3 221.1,74.6 221.3,77.2 221.5,83.1 221.7,89.1 221.9,95.3 222.1,101.5 222.3,108.1 222.5,114.9 222.7,111.1 222.9,107.2 223.1,103.3 223.3,99.5 223.5,95.4 223.7,91.1 223.9,86.8 224.1,82.4 224.3,78.4 224.5,74.0 224.7,69.5 224.9,64.7 225.1,59.8 225.3,55.0 225.5,52.1 225.7,54.4 225.9,57.1 226.1,60.3 226.3,63.7 226.5,67.3 226.7,70.6 226.9,74.0 227.1,76.9 227.3,79.5 227.5,81.8 227.7,84.2 227.9,84.4 228.1,82.1 228.3,79.9 228.5,77.5 228.7,75.1 228.9,72.5 229.1,70.1 229.3,67.4 229.5,64.7 229.7,62.0 229.9,61.0 230.1,62.3 230.3,63.9 230.5,65.7 230.7,67.6 230.9,69.5 231.1,71.3 231.3,72.9 231.5,74.6 231.7,76.1 231.9,77.5 232.1,77.6 232.3,77.5 232.5,77.5 232.7,77.5 232.9,77.3 233.1,80.4 233.3,86.5 233.5,92.5 233.7,98.0 233.9,103.5 234.1,109.0 234.3,114.7 234.5,109.9 234.7,105.3 234.9,100.8 235.1,96.3 235.3,91.9 235.5,87.4 235.7,82.7 235.9,78.9 236.1,76.0 236.3,73.3 236.5,70.8 236.7,68.2 236.9,65.6 237.1,62.9 237.3,60.2 237.5,61.6 237.7,64.0 237.9,66.0 238.1,67.8 238.3,69.5 238.5,71.3 238.7,73.1 238.9,75.1 239.1,77.1 239.3,79.3 239.5,81.8 239.7,84.5 239.9,84.6 240.1,82.8 240.3,81.2 240.5,79.0 240.7,77.0 240.9,75.0 241.1,73.0 241.3,70.5 241.5,68.0 241.7,65.6 241.9,63.8 242.1,65.3 242.3,67.0 242.5,68.5 242.7,70.0 242.9,71.1 243.1,72.2 243.3,72.8 243.5,73.4 243.7,74.0 243.9,74.9 244.1,75.7 244.3,75.2 244.5,75.0 244.7,75.0 244.9,75.0 245.1,75.2 245.3,78.6 245.5,84.5 245.7,90.5 245.9,96.3 246.1,102.1 246.3,107.7 246.5,113.2 246.7,108.9 246.9,104.4 247.1,99.6 247.3,95.0 247.5,90.6 247.7,86.4 247.9,82.1 248.1,78.2 248.3,74.7 248.5,71.3 248.7,68.1 248.9,65.1 249.1,62.1 249.3,59.0 249.5,57.3 249.7,60.0 249.9,62.5 250.1,65.0 250.3,67.0 250.5,69.0 250.7,70.8 250.9,72.6 251.1,74.5 251.3,76.2 251.5,78.1 251.7,80.1 251.9,80.4 252.1,78.8 252.3,76.9 252.5,75.0 252.7,73.1 252.9,71.5 253.1,69.7 253.3,68.4 253.5,67.3 253.7,66.2 253.9,66.3 254.1,67.7 254.3,68.9 254.5,69.9 254.7,71.0 254.9,72.0 255.1,73.0 255.3,74.1 255.5,75.1 255.7,76.2 255.9,77.0 256.1,76.7 256.3,76.3 256.5,75.7 256.7,75.2 256.9,74.7 257.1,77.2 257.3,82.6 257.5,88.2 257.7,93.9 257.9,99.7 258.1,105.6 258.3,111.0 258.5,107.4 258.7,104.0 258.9,100.4 259.1,97.0 259.3,93.6 259.5,90.0 259.7,86.2 259.9,82.1 260.1,77.6 260.3,73.4 260.5,69.4 260.7,65.6 260.9,62.0 261.1,58.7 261.3,55.4 261.5,53.5 261.7,55.7 261.9,57.8 262.1,59.8 262.3,61.6 262.5,63.3 262.7,65.3 262.9,67.3 263.1,69.4 263.3,71.4 263.5,73.2 263.7,74.9 263.9,76.2 264.1,75.6 264.3,74.2 264.5,72.5 264.7,70.9 264.9,69.5 265.1,68.3 265.3,67.2 265.5,66.4 265.7,65.9 265.9,65.6 266.1,65.5 266.3,66.9 266.5,68.6 266.7,70.2 266.9,71.7 267.1,73.0 267.3,74.1 267.5,75.1 267.7,76.0 267.9,77.0 268.1,77.9 268.3,78.9 268.5,79.1 268.7,78.7 268.9,78.0 269.1,77.5 269.3,76.8 269.5,76.0 269.7,77.9 269.9,83.0 270.1,88.1 270.3,93.1 270.5,98.6 270.7,104.2 270.9,109.9 271.1,106.2 271.3,102.4 271.5,98.7 271.7,94.7 271.9,90.9 272.1,87.2 272.3,83.7 272.5,81.0 272.7,78.6 272.9,76.4 273.1,73.9 273.3,71.4 273.5,68.8 273.7,66.0 273.9,63.0 274.1,60.7 274.3,61.7 274.5,62.5 274.7,63.4 274.9,64.5 275.1,65.4 275.3,66.7 275.5,68.3 275.7,70.1 275.9,72.2 276.1,74.2 276.3,76.2 276.5,78.3 276.7,78.6 276.9,77.6 277.1,76.9 277.3,75.6 277.5,74.2 277.7,72.7 277.9,71.4 278.1,69.9 278.3,68.5 278.5,67.2 278.7,65.9 278.9,66.5 279.1,67.2 279.3,67.7 279.5,68.2 279.7,68.6 279.9,69.4 280.1,70.4 280.3,71.7 280.5,73.3 280.7,75.1 280.9,77.0 281.1,78.1 281.3,78.3 281.5,78.4 281.7,78.3 281.9,78.0 282.1,77.5 282.3,79.9 282.5,85.2 282.7,90.5 282.9,95.9 283.1,101.2 283.3,106.4 283.5,111.7 283.7,107.8 283.9,103.5 284.1,99.2 284.3,94.6 284.5,90.2 284.7,85.8 284.9,81.7 285.1,77.6 285.3,73.6 285.5,69.6 285.7,66.1 285.9,62.7 286.1,59.2 286.3,57.4 286.5,60.8 286.7,63.9 286.9,66.9 287.1,69.7 287.3,72.3 287.5,74.8 287.7,77.1 287.9,79.4 288.1,81.7 288.3,84.1 288.5,85.3 288.7,82.5 288.9,79.6 289.1,76.7 289.3,73.9 289.5,71.2 289.7,68.7 289.9,66.2 290.1,63.9 290.3,62.0 290.5,63.8 290.7,65.9 290.9,67.9 291.1,70.0 291.3,72.2 291.5,74.2 291.7,76.1 291.9,77.7 292.1,79.0 292.3,80.3 292.5,79.4 292.7,78.4 292.9,77.3 293.1,76.3 293.3,78.3 293.5,83.3 293.7,88.6 293.9,94.1 294.1,99.8 294.3,105.5 294.5,111.4 294.7,107.9 294.9,104.1 295.1,100.5 295.3,97.0 295.5,93.3 295.7,89.8 295.9,86.0 296.1,81.3 296.3,75.6 296.5,69.9 296.7,64.1 296.9,58.2 297.1,54.8 297.3,57.7 297.5,61.0 297.7,64.2 297.9,67.6 298.1,71.1 298.3,74.7 298.5,78.3 298.7,81.9 298.9,85.3 299.1,88.1 299.3,85.1 299.5,82.2 299.7,78.9 299.9,75.9 300.1,73.1 300.3,70.4 300.5,67.9 300.7,65.3 300.9,64.4 301.1,65.8 301.3,67.2 301.5,68.6 301.7,70.0 301.9,71.4 302.1,72.9 302.3,74.5 302.5,75.9 302.7,76.8 302.9,76.0 303.1,75.3 303.3,74.7 303.5,77.4 303.7,83.6 303.9,89.7 304.1,96.2 304.3,102.3 304.5,108.3 304.7,114.0 304.9,109.9 305.1,105.5 305.3,100.9 305.5,96.1 305.7,91.7 305.9,87.1 306.1,82.8 306.3,74.9 306.5,63.4 306.7,57.1 306.9,59.4 307.1,61.8 307.3,64.5 307.5,67.3 307.7,70.3 307.9,73.6 308.1,77.0 308.3,77.3 308.5,75.8 308.7,74.5 308.9,73.2 309.1,71.7 309.3,70.0 309.5,68.6 309.7,70.5 309.9,72.1 310.1,73.5 310.3,74.7 310.5,75.5 310.7,76.6 310.9,76.8 311.1,74.4 311.3,78.0 311.5,81.9 311.7,86.1 311.9,90.5 312.1,95.2 312.3,99.9 312.5,101.2 312.7,98.9 312.9,96.4 313.1,93.6 313.3,90.7 313.5,87.7 313.7,84.8 313.9,82.1 314.1,74.6 314.3,67.3 314.5,60.1 314.7,54.0 314.9,56.6 315.1,59.1 315.3,61.2 315.5,63.8 315.7,66.3 315.9,68.5 316.1,71.0 316.3,73.1 316.5,74.8 316.7,73.4 316.9,72.0 317.1,70.9 317.3,70.0 317.5,69.8 317.7,69.6 317.9,69.8 318.1,70.4 318.3,72.7 318.5,74.8 318.7,76.6 318.9,77.9 319.1,79.0 319.3,79.7 319.5,80.2 319.7,80.6 319.9,79.1 320.1,78.1 320.3,79.5 320.5,83.7 320.7,88.0 320.9,92.3 321.1,96.5 321.3,100.3 321.5,104.1 321.7,100.7 321.9,97.5 322.1,94.6 322.3,91.7 322.5,89.2 322.7,86.3 322.9,83.9 323.1,78.3 323.3,69.8 323.5,61.1 323.7,59.9 323.9,63.1 324.1,66.1 324.3,69.0 324.5,71.5 324.7,73.8 324.9,75.9 325.1,78.0 325.3,78.6 325.5,76.0 325.7,73.7 325.9,71.5 326.1,69.4 326.3,67.5 326.5,65.5 326.7,64.6 326.9,66.4 327.1,68.3 327.3,69.9 327.5,71.7 327.7,73.9 327.9,76.1 328.1,78.2 328.3,78.1 328.5,77.2 328.7,81.7 328.9,85.7 329.1,89.6 329.3,93.3 329.5,97.0 329.7,100.4 329.9,100.3 330.1,96.7 330.3,93.4 330.5,90.4 330.7,87.7 330.9,85.3 331.1,83.1 331.3,80.9 331.5,58.1 331.7,63.0 331.9,67.9 332.1,72.9 332.3,77.9 332.5,82.7 332.7,87.6 332.9,86.6 333.1,82.6 333.3,78.4 333.5,74.0 333.7,69.5 333.9,65.2 334.1,67.5 334.3,69.6 334.5,72.0 334.7,73.9 334.9,75.9 335.1,75.6 335.3,80.1 335.5,84.8 335.7,89.5 335.9,94.4 336.1,99.7 336.3,105.0 336.5,106.1 336.7,103.4 336.9,100.6 337.1,97.8 337.3,94.8 337.5,91.7 337.7,88.5 337.9,85.0 338.1,66.4 338.3,70.8 338.5,75.0 338.7,79.3 338.9,83.7 339.1,88.0 339.3,85.0 339.5,80.0 339.7,75.2 339.9,70.7 340.1,66.4 340.3,66.5 340.5,69.4 340.7,72.3 340.9,75.2 341.1,78.1 341.3,80.9 341.5,85.7 341.7,90.5 341.9,95.1 342.1,99.6 342.3,104.2 342.5,108.7 342.7,105.7 342.9,102.2 343.1,98.6 343.3,94.9 343.5,90.7 343.7,86.9 343.9,82.7 344.1,66.4 344.3,64.4 344.5,66.9 344.7,69.6 344.9,72.7 345.1,76.1 345.3,79.3 345.5,80.6 345.7,78.7 345.9,76.9 346.1,75.4 346.3,74.0 346.5,72.5 346.7,74.3 346.9,76.4 347.1,78.4 347.3,80.4 347.5,82.3 347.7,82.1 347.9,85.0 348.1,87.4 348.3,89.7 348.5,92.1 348.7,94.4 348.9,96.7 349.1,96.6 349.3,93.9 349.5,91.4 349.7,89.1 349.9,86.9 350.1,85.1 350.3,83.8 350.5,65.3 350.7,69.6 350.9,73.4 351.1,77.1 351.3,80.3 351.5,81.0 351.7,79.7 351.9,78.4 352.1,76.8 352.3,75.1 352.5,76.8 352.7,78.5 352.9,79.5 353.1,80.4 353.3,84.1 353.5,87.1 353.7,90.2 353.9,93.5 354.1,97.0 354.3,100.7 354.5,98.6 354.7,96.4 354.9,94.5 355.1,92.5 355.3,91.0 355.5,89.0 355.7,86.9 355.9,72.7 356.1,77.8 356.3,82.5 356.5,87.0 356.7,85.0 356.9,80.4 357.1,75.6 357.3,70.4 357.5,69.1 357.7,70.8 357.9,72.9 358.1,75.6 358.3,82.8 358.5,87.3 358.7,92.0 358.9,96.6 359.1,101.8 359.3,107.0 359.5,104.7 359.7,102.0 359.9,99.6 360.1,97.7 360.3,95.3 360.5,92.4 360.7,89.1 360.9,74.0 361.1,73.5 361.3,76.5 361.5,79.2 361.7,82.5 361.9,86.0 362.1,88.8 362.3,89.0 362.5,83.8 362.7,78.4 362.9,73.0 363.1,67.8 363.3,62.9 363.5,64.8 363.7,68.2 363.9,72.0 364.1,75.9 364.3,79.9 364.5,82.2 364.7,87.9 364.9,92.9 365.1,98.0 365.3,102.9 365.5,107.4 365.7,111.8 365.9,111.8 366.1,107.1 366.3,101.7 366.5,97.1 366.7,92.0 366.9,87.3 367.1,82.8 367.3,78.7 367.5,58.9 367.7,63.0 367.9,67.3 368.1,71.7 368.3,76.7 368.5,81.4 368.7,86.3 368.9,85.6 369.1,82.6 369.3,80.3 369.5,77.0 369.7,73.3 369.9,69.7 370.1,71.8 370.3,73.6 370.5,75.1 370.7,76.6 370.9,77.6 371.1,77.0 371.3,80.5 371.5,84.1 371.7,88.4 371.9,92.4 372.1,97.1 372.3,102.1 372.5,103.1 372.7,100.4 372.9,97.4 373.1,95.0 373.3,93.3 373.5,91.0 373.7,88.7 373.9,85.8 374.1,67.2 374.3,70.2 374.5,73.0 374.7,75.5 374.9,77.5 375.1,79.6 375.3,81.9 375.5,79.4 375.7,76.0 375.9,72.5 376.1,69.3 376.3,66.3 376.5,65.3 376.7,67.3 376.9,69.8 377.1,72.3 377.3,75.7 377.5,78.7 377.7,81.1 377.9,86.2 378.1,90.4 378.3,94.5 378.5,98.6 378.7,102.3 378.9,105.7 379.1,102.7 379.3,99.7 379.5,96.6 379.7,93.2 379.9,89.8 380.1,86.9 380.3,83.1 380.5,65.9 380.7,67.4 380.9,69.1 381.1,70.6 381.3,72.6 381.5,74.8 381.7,74.5 381.9,73.5 382.1,73.0 382.3,72.2 382.5,71.5 382.7,73.1 382.9,76.0 383.1,78.4 383.3,80.7 383.5,83.0 383.7,85.8 383.9,89.3 384.1,92.6 384.3,95.7 384.5,98.7 384.7,100.9 384.9,100.2 385.1,97.1 385.3,93.5 385.5,90.5 385.7,87.6 385.9,84.9 386.1,82.3 386.3,79.9 386.5,62.2 386.7,67.3 386.9,71.5 387.1,76.6 387.3,81.8 387.5,87.0 387.7,86.0 387.9,83.4 388.1,80.6 388.3,77.4 388.5,74.2 388.7,74.2 388.9,76.3 389.1,78.0 389.3,79.3 389.5,80.4 389.7,79.8 389.9,79.8 390.1,80.3 390.3,81.0 390.5,81.9 390.7,83.0 390.9,84.3 391.1,83.5 391.3,83.3 391.5,82.8 391.7,82.4 391.9,83.1 392.1,83.6 392.3,83.8 392.5,77.6 392.7,84.6 392.9,90.5 393.1,93.7 393.3,87.2 393.5,80.3 393.7,73.3 393.9,67.4 394.1,70.3 394.3,73.3 394.5,76.0 394.7,79.1 394.9,80.8 395.1,81.6 395.3,82.7 395.5,84.0 395.7,85.4 395.9,84.6 396.1,84.7 396.3,85.0 396.5,85.2 396.7,85.4 396.9,85.5 397.1,85.8 397.3,75.5 397.5,80.3 397.7,84.5 397.9,88.6 398.1,85.8 398.3,80.5 398.5,75.4 398.7,70.2 398.9,68.4 399.1,71.0 399.3,73.5 399.5,76.0 399.7,78.1 399.9,78.4 400.1,78.8 400.3,79.6 400.5,80.8 400.7,82.1 400.9,83.1 401.1,83.7 401.3,85.2 401.5,86.1 401.7,86.8 401.9,87.0 402.1,87.2 402.3,65.3 402.5,68.4 402.7,70.9 402.9,73.4 403.1,75.8 403.3,77.9 403.5,80.6 403.7,79.0 403.9,76.7 404.1,73.9 404.3,71.5 404.5,69.1 404.7,68.9 404.9,70.3 405.1,72.3 405.3,74.3 405.5,77.3 405.7,79.8 405.9,81.1 406.1,83.9 406.3,86.3 406.5,88.7 406.7,91.3 406.9,93.5 407.1,94.0 407.3,92.2 407.5,90.3 407.7,88.0 407.9,85.7 408.1,82.9 408.3,80.4 408.5,78.4 408.7,61.8 408.9,63.4 409.1,65.5 409.3,67.6 409.5,70.2 409.7,73.3 409.9,75.9 410.1,76.0 410.3,76.0 410.5,75.2 410.7,75.0 410.9,74.7 411.1,77.2 411.3,79.4 411.5,81.1 411.7,82.4 411.9,83.4 412.1,83.3 412.3,86.1 412.5,88.2 412.7,91.1 412.9,94.5 413.1,97.6 413.3,100.8 413.5,97.8 413.7,95.5 413.9,93.3 414.1,91.9 414.3,89.3 414.5,88.0 414.7,85.2 414.9,68.1 415.1,72.5 415.3,77.2 415.5,81.5 415.7,85.6 415.9,89.5 416.1,85.1 416.3,80.3 416.5,75.0 416.7,70.6 416.9,66.2 417.1,68.5 417.3,70.3 417.5,72.0 417.7,74.2 417.9,76.4 418.1,82.7 418.3,87.9 418.5,93.8 418.7,99.8 418.9,106.3 419.1,113.0 419.3,110.3 419.5,107.7 419.7,104.2 419.9,101.1 420.1,98.2 420.3,94.6 420.5,91.0 420.7,71.2 420.9,75.8 421.1,80.2 421.3,83.7 421.5,87.9 421.7,91.8 421.9,86.2 422.1,79.6 422.3,73.1 422.5,66.9 422.7,61.4 422.9,64.5 423.1,67.7 423.3,71.3 423.5,75.0 423.7,79.4 423.9,85.2 424.1,90.6 424.3,96.2 424.5,101.9 424.7,106.9 424.9,111.5 425.1,108.5 425.3,105.4 425.5,101.6 425.7,97.2 425.9,93.0 426.1,89.0 426.3,85.0 426.5,68.3 426.7,70.5 426.9,73.0 427.1,75.2 427.3,77.7 427.5,80.7 427.7,79.0 427.9,75.6 428.1,72.4 428.3,69.5 428.5,66.9 428.7,68.2 428.9,71.7 429.1,75.3 429.3,79.0 429.5,82.7 429.7,87.0 429.9,92.0 430.1,96.4 430.3,100.3 430.5,103.5 430.7,106.3 430.9,105.4 431.1,101.0 431.3,96.6 431.5,91.9 431.7,88.1 431.9,84.6 432.1,81.2 432.3,78.1 432.5,59.4 432.7,60.0 432.9,63.7 433.1,67.6 433.3,72.1 433.5,75.8 433.7,79.6 433.9,83.2 434.1,82.6 434.3,81.3 434.5,79.7 434.7,77.3 434.9,74.9 435.1,72.3 435.3,72.7 435.5,73.4 435.7,73.9 435.9,74.5 436.1,75.8 436.3,77.4 436.5,77.7 436.7,82.3 436.9,87.0 437.1,91.7 437.3,97.1 437.5,102.3 437.7,108.4 437.9,105.8 438.1,103.2 438.3,101.1 438.5,98.6 438.7,95.4 438.9,92.0 439.1,88.4 439.3,68.4 439.5,70.9 439.7,72.8 439.9,74.9 440.1,76.7 440.3,78.4 440.5,76.9 440.7,73.4 440.9,70.2 441.1,67.9 441.3,66.0 441.5,67.1 441.7,69.9 441.9,72.3 442.1,74.6 442.3,77.3 442.5,81.7 442.7,87.1 442.9,92.6 443.1,97.0 443.3,102.0 443.5,106.8 443.7,107.7 443.9,105.1 444.1,102.0 444.3,98.9 444.5,95.4 444.7,91.8 444.9,87.5 445.1,83.5 445.3,67.3 445.5,67.4 445.7,69.4 445.9,71.9 446.1,74.6 446.3,77.8 446.5,81.5 446.7,85.2 446.9,82.2 447.1,79.2 447.3,76.6 447.5,74.1 447.7,71.5 447.9,69.4 448.1,72.6 448.3,75.6 448.5,78.4 448.7,80.8 448.9,82.9 449.1,84.7 449.3,84.2 449.5,87.0 449.7,90.4 449.9,93.5 450.1,96.6 450.3,100.0 450.5,103.1 450.7,99.3 450.9,95.7 451.1,92.5 451.3,89.7 451.5,87.5 451.7,85.3 451.9,83.3 452.1,78.8 452.3,71.2 452.5,63.8 452.7,64.7 452.9,68.3 453.1,71.6 453.3,74.8 453.5,78.4 453.7,82.0 453.9,85.2 454.1,88.1 454.3,87.0 454.5,83.2 454.7,79.0 454.9,74.6 455.1,69.9 455.3,65.6 455.5,61.5 455.7,61.1 455.9,63.6 456.1,66.4 456.3,69.7 456.5,73.5 456.7,77.1 456.9,80.7 457.1,83.7 457.3,83.6 457.5,85.2 457.7,89.0 457.9,92.3 458.1,95.2 458.3,98.2 458.5,100.8 458.7,103.5 458.9,100.1 459.1,96.7 459.3,93.1 459.5,90.1 459.7,87.3 459.9,84.6 460.1,82.3 460.3,74.2 460.5,64.5 460.7,68.0 460.9,72.3 461.1,75.7 461.3,79.8 461.5,83.3 461.7,86.6 461.9,88.9 462.1,86.9 462.3,84.5 462.5,81.7 462.7,78.6 462.9,75.3 463.1,72.9 463.3,73.4 463.5,74.0 463.7,75.0 463.9,75.3 464.1,76.4 464.3,77.9 464.5,77.6 464.7,82.0 464.9,86.8 465.1,91.7 465.3,97.0 465.5,102.7 465.7,108.8 465.9,106.2 466.1,103.8 466.3,101.8 466.5,99.5 466.7,96.9 466.9,93.7 467.1,90.0 467.3,80.6 467.5,69.6 467.7,70.2 467.9,71.2 468.1,71.8 468.3,73.6 468.5,74.7 468.7,75.8 468.9,76.1 469.1,74.5 469.3,73.0 469.5,71.6 469.7,70.9 469.9,70.8 470.1,71.4 470.3,73.7 470.5,77.0 470.7,79.5 470.9,81.3 471.1,83.0 471.3,84.3 471.5,83.3 471.7,86.1 471.9,89.1 472.1,91.7 472.3,94.5 472.5,97.1 472.7,99.5 472.9,96.3 473.1,93.3 473.3,89.9 473.5,86.7 473.7,83.8 473.9,81.2 474.1,79.0 474.3,62.0 474.5,67.3 474.7,72.6 474.9,78.2 475.1,83.3 475.3,81.9 475.5,80.0 475.7,77.8 475.9,75.3 476.1,75.3 476.3,77.3 476.5,78.9 476.7,80.2 476.9,81.4 477.1,83.1 477.3,84.3 477.5,85.2 477.7,86.5 477.9,88.0 478.1,88.1 478.3,86.8 478.5,85.5 478.7,84.7 478.9,84.2 479.1,84.3 479.3,84.4 479.5,73.3 479.7,78.8 479.9,83.8 480.1,89.0 480.3,93.2 480.5,87.2 480.7,81.1 480.9,75.1 481.1,68.3 481.3,67.8 481.5,70.2 481.7,71.8 481.9,74.1 482.1,81.6 482.3,85.7 482.5,90.2 482.7,94.9 482.9,100.4 483.1,106.2 483.3,103.5 483.5,101.1 483.7,98.3 483.9,96.1 484.1,94.0 484.3,91.2 484.5,88.1 484.7,78.4 484.9,67.4 485.1,71.2 485.3,74.7 485.5,77.8 485.7,80.3 485.9,82.9 486.1,85.2 486.3,86.2 486.5,81.3 486.7,76.9 486.9,72.9 487.1,69.1 487.3,65.4 487.5,63.9 487.7,67.4 487.9,70.8 488.1,74.4 488.3,77.8 488.5,81.2 488.7,84.5 488.9,85.4 489.1,90.1 489.3,94.4 489.5,98.2 489.7,101.7 489.9,105.1 490.1,108.0 490.3,103.5 490.5,98.7 490.7,94.7 490.9,91.1 491.1,87.9 491.3,85.3 491.5,82.8 491.7,74.1 491.9,63.6 492.1,67.4 492.3,71.2 492.5,75.2 492.7,78.8 492.9,82.0 493.1,85.1 493.3,86.6 493.5,83.7 493.7,80.4 493.9,76.7 494.1,72.5 494.3,69.0 494.5,67.0 494.7,67.9 494.9,69.2 495.1,70.8 495.3,72.6 495.5,74.8 495.7,77.6 495.9,78.5 496.1,82.9 496.3,87.9 496.5,93.4 496.7,98.6 496.9,103.7 497.1,108.7 497.3,106.5 497.5,104.3 497.7,101.4 497.9,98.3 498.1,94.8 498.3,91.2 498.5,87.2 498.7,70.2 498.9,71.3 499.1,72.5 499.3,73.9 499.5,75.1 499.7,75.9 499.9,74.1 500.1,71.6 500.3,69.7 500.5,68.3 500.7,67.1 500.9,70.0 501.1,73.2 501.3,77.2 501.5,80.4 501.7,84.0 501.9,87.5 502.1,91.1 502.3,94.1 502.5,96.9 502.7,99.5 502.9,101.8 503.1,98.5 503.3,95.7 503.5,92.6 503.7,89.3 503.9,86.0 504.1,82.7 504.3,79.4 504.5,59.1 504.7,62.8 504.9,66.6 505.1,70.9 505.3,75.5 505.5,80.4 505.7,79.7 505.9,78.6 506.1,77.0 506.3,75.1 506.5,73.1 506.7,75.7 506.9,77.9 507.1,80.1 507.3,82.0 507.5,83.9 507.7,89.2 507.9,93.0 508.1,96.5 508.3,100.0 508.5,104.1 508.7,107.8 508.9,102.9 509.1,98.5 509.3,94.6 509.5,91.2 509.7,88.1 509.9,85.4 510.1,83.1 510.3,80.6 510.5,77.1 510.7,73.9 510.9,70.2 511.1,69.1 511.3,72.2 511.5,75.1 511.7,78.2 511.9,80.9 512.1,83.4 512.3,85.5 512.5,87.6 512.7,89.5 512.9,91.1 513.1,86.9 513.3,83.3 513.5,79.7 513.7,76.4 513.9,73.4 514.1,70.6 514.3,68.1 514.5,66.8 514.7,70.2 514.9,72.9 515.1,75.0 515.3,77.9 515.5,80.3 515.7,82.5 515.9,84.4 516.1,86.1 516.3,85.7 516.5,84.5 516.7,83.5 516.9,87.4 517.1,91.8 517.3,95.2 517.5,98.8 517.7,103.0 517.9,106.2 518.1,105.4 518.3,100.7 518.5,96.3 518.7,92.2 518.9,88.5 519.1,85.4 519.3,82.0 519.5,79.7 519.7,77.1 519.9,74.6 520.1,72.5 520.3,69.6 520.5,72.4 520.7,75.3 520.9,77.7 521.1,79.5 521.3,80.8 521.5,81.7 521.7,82.5 521.9,83.5 522.1,85.0 522.3,83.7 522.5,80.3 522.7,76.8 522.9,73.7 523.1,70.5 523.3,67.4 523.5,64.6 523.7,61.7 523.9,62.8 524.1,65.0 524.3,67.8 524.5,71.3 524.7,74.6 524.9,77.8 525.1,80.6 525.3,83.2 525.5,84.8 525.7,84.1 525.9,82.5 526.1,83.4 526.3,86.7 526.5,89.6 526.7,92.9 526.9,95.8 527.1,98.9 527.3,102.3 527.5,98.0 527.7,94.5 527.9,91.7 528.1,89.1 528.3,87.0 528.5,85.2 528.7,82.8 528.9,78.8 529.1,73.2 529.3,67.3 529.5,62.6 529.7,65.5 529.9,68.7 530.1,71.4 530.3,73.8 530.5,76.2 530.7,78.4 530.9,80.1 531.1,82.0 531.3,81.7 531.5,78.8 531.7,76.6 531.9,74.2 532.1,71.9 532.3,69.8 532.5,68.0" stroke="#f00" stroke-width="1.1" stroke-dasharray="4.7 2.3 0.9 2.4 0.9 2.3"/><polyline points="43.5,43.3 43.7,42.9 43.9,42.7 44.1,42.8 44.3,43.1 44.5,43.6 44.7,44.2 44.9,44.7 45.1,45.3 45.3,45.7 45.5,46.0 45.7,46.1 45.9,46.2 46.1,46.2 46.3,47.9 46.5,51.3 46.7,54.7 46.9,58.1 47.1,61.3 47.3,64.3 47.5,67.1 47.7,69.8 47.9,72.5 48.1,75.1 48.3,77.9 48.5,80.0 48.7,77.0 48.9,74.3 49.1,71.7 49.3,69.0 49.5,66.5 49.7,66.4 49.9,67.5 50.1,68.4 50.3,67.1 50.5,64.0 50.7,60.7 50.9,57.4 51.1,54.1 51.3,50.8 51.5,47.5 51.7,46.5 51.9,47.9 52.1,49.2 52.3,50.5 52.5,51.8 52.7,53.1 52.9,54.4 53.1,55.8 53.3,57.3 53.5,59.0 53.7,60.9 53.9,62.9 54.1,65.0 54.3,67.2 54.5,69.3 54.7,71.3 54.9,73.2 55.1,74.8 55.3,76.3 55.5,77.7 55.7,78.9 55.9,78.1 56.1,76.5 56.3,75.1 56.5,73.8 56.7,72.8 56.9,71.8 57.1,70.6 57.3,69.2 57.5,67.6 57.7,66.0 57.9,65.4 58.1,65.7 58.3,66.4 58.5,67.1 58.7,68.1 58.9,69.1 59.1,68.3 59.3,67.0 59.5,65.2 59.7,63.3 59.9,61.0 60.1,58.6 60.3,56.1 60.5,53.8 60.7,51.8 60.9,50.0 61.1,48.3 61.3,46.9 61.5,45.4 61.7,47.5 61.9,49.7 62.1,51.9 62.3,54.2 62.5,56.4 62.7,58.7 62.9,61.1 63.1,63.2 63.3,65.1 63.5,67.0 63.7,68.7 63.9,70.3 64.1,72.0 64.3,73.7 64.5,75.6 64.7,77.2 64.9,78.8 65.1,80.5 65.3,79.4 65.5,77.3 65.7,75.2 65.9,73.1 66.1,71.2 66.3,69.5 66.5,68.1 66.7,66.8 66.9,65.6 67.1,66.2 67.3,66.9 67.5,67.7 67.7,68.4 67.9,69.2 68.1,68.3 68.3,67.0 68.5,65.5 68.7,63.7 68.9,61.7 69.1,59.5 69.3,57.3 69.5,55.0 69.7,53.0 69.9,51.2 70.1,49.5 70.3,49.7 70.5,51.7 70.7,53.6 70.9,55.4 71.1,57.1 71.3,58.8 71.5,60.6 71.7,62.3 71.9,64.0 72.1,65.6 72.3,67.1 72.5,68.4 72.7,69.7 72.9,70.8 73.1,72.0 73.3,73.3 73.5,74.5 73.7,75.9 73.9,77.4 74.1,79.1 74.3,80.9 74.5,82.9 74.7,83.3 74.9,82.0 75.1,80.5 75.3,78.9 75.5,77.1 75.7,75.3 75.9,73.3 76.1,71.3 76.3,69.4 76.5,67.6 76.7,65.9 76.9,65.7 77.1,66.1 77.3,66.5 77.5,66.9 77.7,67.2 77.9,67.7 78.1,66.7 78.3,65.2 78.5,63.6 78.7,62.2 78.9,60.8 79.1,59.6 79.3,58.3 79.5,57.0 79.7,55.6 79.9,54.2 80.1,52.5 80.3,50.6 80.5,48.6 80.7,46.6 80.9,47.6 81.1,48.9 81.3,50.1 81.5,51.4 81.7,53.0 81.9,54.6 82.1,56.3 82.3,58.0 82.5,59.8 82.7,61.6 82.9,63.3 83.1,64.9 83.3,66.4 83.5,67.8 83.7,69.0 83.9,70.3 84.1,71.5 84.3,72.7 84.5,74.0 84.7,75.2 84.9,76.3 85.1,77.5 85.3,78.2 85.5,76.1 85.7,74.2 85.9,72.5 86.1,71.1 86.3,69.5 86.5,67.9 86.7,66.2 86.9,64.3 87.1,62.4 87.3,60.4 87.5,58.6 87.7,59.2 87.9,59.7 88.1,60.3 88.3,60.8 88.5,61.3 88.7,62.0 88.9,60.9 89.1,58.9 89.3,56.7 89.5,54.3 89.7,51.9 89.9,49.4 90.1,46.8 90.3,44.4 90.5,42.0 90.7,39.6 90.9,37.2 91.1,34.9 91.3,32.6 91.5,30.4 91.7,30.5 91.9,33.0 92.1,35.4 92.3,38.1 92.5,40.8 92.7,43.4 92.9,45.9 93.1,48.3 93.3,50.6 93.5,52.8 93.7,55.1 93.9,57.0 94.1,59.1 94.3,61.0 94.5,63.0 94.7,65.1 94.9,67.3 95.1,69.7 95.3,72.2 95.5,74.7 95.7,77.1 95.9,79.1 96.1,77.3 96.3,75.5 96.5,73.9 96.7,72.2 96.9,70.5 97.1,68.8 97.3,67.0 97.5,65.1 97.7,63.1 97.9,61.2 98.1,60.8 98.3,61.1 98.5,61.5 98.7,61.6 98.9,61.6 99.1,61.5 99.3,59.4 99.5,56.9 99.7,54.6 99.9,52.5 100.1,50.9 100.3,49.5 100.5,48.6 100.7,47.6 100.9,46.5 101.1,45.3 101.3,43.8 101.5,42.0 101.7,40.0 101.9,39.9 102.1,41.4 102.3,43.2 102.5,44.9 102.7,46.8 102.9,48.7 103.1,50.9 103.3,53.0 103.5,55.0 103.7,57.1 103.9,59.2 104.1,61.3 104.3,63.5 104.5,65.9 104.7,68.0 104.9,70.0 105.1,72.0 105.3,73.9 105.5,75.9 105.7,77.8 105.9,79.6 106.1,81.5 106.3,83.3 106.5,82.4 106.7,80.2 106.9,77.8 107.1,75.5 107.3,73.0 107.5,70.7 107.7,68.4 107.9,66.4 108.1,64.4 108.3,62.5 108.5,60.6 108.7,60.0 108.9,60.6 109.1,61.1 109.3,61.5 109.5,61.8 109.7,61.9 109.9,61.4 110.1,58.8 110.3,56.3 110.5,53.8 110.7,51.5 110.9,49.0 111.1,46.7 111.3,44.5 111.5,42.2 111.7,40.1 111.9,38.1 112.1,36.1 112.3,34.2 112.5,32.3 112.7,30.6 112.9,33.7 113.1,36.7 113.3,39.5 113.5,42.2 113.7,45.0 113.9,47.7 114.1,50.4 114.3,52.9 114.5,55.2 114.7,57.7 114.9,60.1 115.1,62.7 115.3,65.2 115.5,67.7 115.7,70.3 115.9,72.7 116.1,75.2 116.3,77.8 116.5,80.5 116.7,83.2 116.9,83.9 117.1,81.9 117.3,79.7 117.5,77.6 117.7,75.4 117.9,73.1 118.1,70.9 118.3,68.8 118.5,66.7 118.7,64.5 118.9,63.5 119.1,63.7 119.3,63.6 119.5,63.2 119.7,63.1 119.9,62.8 120.1,60.4 120.3,57.6 120.5,55.1 120.7,52.7 120.9,50.5 121.1,48.3 121.3,46.1 121.5,43.8 121.7,41.2 121.9,38.7 122.1,36.2 122.3,33.6 122.5,31.2 122.7,33.4 122.9,35.5 123.1,37.4 123.3,39.3 123.5,41.0 123.7,42.7 123.9,44.5 124.1,46.5 124.3,48.6 124.5,50.7 124.7,52.8 124.9,55.0 125.1,57.4 125.3,59.8 125.5,62.5 125.7,65.1 125.9,67.8 126.1,70.3 126.3,72.5 126.5,74.7 126.7,76.7 126.9,78.5 127.1,80.3 127.3,78.2 127.5,75.7 127.7,73.2 127.9,70.9 128.1,68.8 128.3,66.8 128.5,65.0 128.7,63.1 128.9,61.4 129.1,59.7 129.3,58.0 129.5,58.0 129.7,58.8 129.9,59.6 130.1,60.2 130.3,60.9 130.5,61.7 130.7,61.6 130.9,59.9 131.1,58.0 131.3,56.1 131.5,54.2 131.7,52.1 131.9,49.9 132.1,47.3 132.3,44.6 132.5,41.7 132.7,38.8 132.9,35.9 133.1,33.2 133.3,30.4 133.5,27.7 133.7,29.5 133.9,31.4 134.1,33.6 134.3,35.8 134.5,38.1 134.7,40.7 134.9,43.3 135.1,45.7 135.3,47.9 135.5,49.8 135.7,51.6 135.9,53.2 136.1,54.8 136.3,56.4 136.5,58.2 136.7,60.1 136.9,62.3 137.1,64.6 137.3,66.9 137.5,69.2 137.7,71.5 137.9,73.6 138.1,75.6 138.3,77.7 138.5,79.9 138.7,78.5 138.9,77.2 139.1,76.0 139.3,74.8 139.5,73.6 139.7,72.2 139.9,70.8 140.1,69.1 140.3,67.3 140.5,65.3 140.7,63.3 140.9,61.2 141.1,59.0 141.3,58.4 141.5,58.3 141.7,58.3 141.9,58.2 142.1,58.0 142.3,57.9 142.5,58.0 142.7,58.1 142.9,56.6 143.1,55.4 143.3,54.1 143.5,53.0 143.7,51.5 143.9,49.8 144.1,47.9 144.3,45.7 144.5,43.3 144.7,41.0 144.9,38.8 145.1,36.9 145.3,35.2 145.5,33.7 145.7,32.2 145.9,30.5 146.1,28.9 146.3,31.3 146.5,33.6 146.7,36.0 146.9,38.4 147.1,40.9 147.3,43.5 147.5,46.1 147.7,48.6 147.9,51.0 148.1,53.3 148.3,55.5 148.5,57.8 148.7,60.1 148.9,62.4 149.1,64.6 149.3,66.6 149.5,68.7 149.7,70.6 149.9,72.4 150.1,74.2 150.3,76.0 150.5,77.7 150.7,79.5 150.9,81.4 151.1,83.5 151.3,81.8 151.5,80.3 151.7,78.8 151.9,77.5 152.1,76.1 152.3,74.7 152.5,73.1 152.7,71.5 152.9,69.8 153.1,67.8 153.3,65.8 153.5,63.5 153.7,61.4 153.9,61.0 154.1,60.9 154.3,60.9 154.5,61.1 154.7,61.4 154.9,61.6 155.1,61.8 155.3,61.3 155.5,59.3 155.7,57.5 155.9,55.7 156.1,54.1 156.3,52.5 156.5,50.9 156.7,49.4 156.9,48.0 157.1,46.6 157.3,45.1 157.5,43.5 157.7,41.6 157.9,39.5 158.1,37.1 158.3,34.4 158.5,31.9 158.7,31.4 158.9,33.3 159.1,35.4 159.3,37.8 159.5,40.3 159.7,42.9 159.9,45.3 160.1,47.5 160.3,49.7 160.5,51.6 160.7,53.5 160.9,55.2 161.1,56.9 161.3,58.5 161.5,60.3 161.7,62.2 161.9,64.2 162.1,66.3 162.3,68.6 162.5,70.7 162.7,72.7 162.9,74.7 163.1,76.6 163.3,78.5 163.5,80.5 163.7,80.8 163.9,79.6 164.1,78.4 164.3,77.4 164.5,76.3 164.7,75.2 164.9,73.7 165.1,72.0 165.3,70.4 165.5,68.6 165.7,66.8 165.9,65.0 166.1,63.2 166.3,61.6 166.5,59.8 166.7,58.7 166.9,59.0 167.1,59.4 167.3,59.8 167.5,60.4 167.7,60.9 167.9,61.3 168.1,61.6 168.3,61.9 168.5,61.2 168.7,59.9 168.9,58.7 169.1,57.6 169.3,56.5 169.5,55.3 169.7,54.1 169.9,52.7 170.1,51.2 170.3,49.5 170.5,47.7 170.7,45.5 170.9,43.6 171.1,41.5 171.3,39.5 171.5,37.4 171.7,35.3 171.9,33.4 172.1,31.6 172.3,29.8 172.5,31.5 172.7,33.2 172.9,35.1 173.1,37.1 173.3,39.2 173.5,41.6 173.7,43.8 173.9,46.2 174.1,48.6 174.3,50.8 174.5,53.2 174.7,55.6 174.9,58.0 175.1,60.3 175.3,62.5 175.5,64.3 175.7,66.0 175.9,67.6 176.1,69.2 176.3,70.7 176.5,72.4 176.7,74.0 176.9,75.6 177.1,77.2 177.3,78.6 177.5,76.9 177.7,75.1 177.9,73.5 178.1,72.3 178.3,71.3 178.5,70.3 178.7,69.3 178.9,68.2 179.1,66.9 179.3,65.5 179.5,63.7 179.7,61.9 179.9,60.1 180.1,58.6 180.3,58.7 180.5,59.0 180.7,59.5 180.9,60.2 181.1,61.0 181.3,62.0 181.5,62.8 181.7,62.9 181.9,61.6 182.1,59.7 182.3,57.6 182.5,55.4 182.7,53.2 182.9,51.1 183.1,49.3 183.3,47.7 183.5,46.2 183.7,44.9 183.9,43.4 184.1,41.8 184.3,40.4 184.5,38.8 184.7,37.2 184.9,35.8 185.1,34.4 185.3,35.1 185.5,37.6 185.7,40.0 185.9,42.5 186.1,44.8 186.3,47.0 186.5,48.9 186.7,50.7 186.9,52.3 187.1,54.0 187.3,55.5 187.5,57.2 187.7,58.9 187.9,60.7 188.1,62.3 188.3,64.1 188.5,66.2 188.7,68.2 188.9,70.3 189.1,72.3 189.3,74.3 189.5,76.1 189.7,78.1 189.9,80.0 190.1,80.9 190.3,79.5 190.5,78.2 190.7,77.2 190.9,76.2 191.1,74.9 191.3,73.3 191.5,71.5 191.7,69.4 191.9,67.1 192.1,64.7 192.3,62.4 192.5,61.6 192.7,61.6 192.9,61.8 193.1,61.7 193.3,61.9 193.5,62.2 193.7,62.5 193.9,60.9 194.1,59.4 194.3,58.1 194.5,56.7 194.7,55.3 194.9,53.9 195.1,52.1 195.3,50.3 195.5,48.2 195.7,46.0 195.9,43.9 196.1,41.7 196.3,39.4 196.5,37.3 196.7,35.2 196.9,36.9 197.1,38.5 197.3,40.0 197.5,41.7 197.7,43.4 197.9,45.3 198.1,47.5 198.3,49.8 198.5,52.4 198.7,54.9 198.9,57.5 199.1,60.1 199.3,62.4 199.5,64.6 199.7,66.8 199.9,69.1 200.1,71.1 200.3,72.9 200.5,74.7 200.7,76.3 200.9,77.9 201.1,79.5 201.3,81.3 201.5,82.9 201.7,84.6 201.9,82.7 202.1,80.9 202.3,79.1 202.5,77.4 202.7,75.6 202.9,73.9 203.1,72.2 203.3,70.4 203.5,68.7 203.7,67.0 203.9,65.4 204.1,63.8 204.3,63.8 204.5,64.5 204.7,65.1 204.9,65.6 205.1,66.0 205.3,66.2 205.5,66.1 205.7,64.1 205.9,61.7 206.1,59.5 206.3,57.3 206.5,55.3 206.7,53.5 206.9,51.9 207.1,50.3 207.3,48.7 207.5,47.3 207.7,45.8 207.9,44.5 208.1,43.3 208.3,42.1 208.5,40.9 208.7,39.4 208.9,41.4 209.1,42.9 209.3,44.2 209.5,45.1 209.7,46.0 209.9,46.8 210.1,47.7 210.3,48.8 210.5,50.4 210.7,52.3 210.9,54.4 211.1,56.6 211.3,58.8 211.5,60.9 211.7,62.9 211.9,64.9 212.1,66.8 212.3,68.8 212.5,70.9 212.7,73.1 212.9,75.3 213.1,77.4 213.3,79.4 213.5,81.1 213.7,82.6 213.9,80.5 214.1,78.3 214.3,76.2 214.5,74.2 214.7,72.3 214.9,70.7 215.1,69.1 215.3,67.7 215.5,66.3 215.7,65.0 215.9,63.9 216.1,62.5 216.3,62.5 216.5,63.0 216.7,63.4 216.9,63.7 217.1,64.1 217.3,64.4 217.5,64.7 217.7,63.3 217.9,61.4 218.1,59.3 218.3,57.2 218.5,55.2 218.7,53.3 218.9,51.5 219.1,50.0 219.3,48.6 219.5,47.4 219.7,46.2 219.9,44.7 220.1,43.2 220.3,41.6 220.5,39.9 220.7,38.2 220.9,39.7 221.1,41.2 221.3,42.5 221.5,43.7 221.7,45.0 221.9,46.3 222.1,48.0 222.3,49.9 222.5,51.9 222.7,54.0 222.9,55.8 223.1,57.5 223.3,59.0 223.5,60.5 223.7,62.1 223.9,63.8 224.1,65.6 224.3,67.8 224.5,69.9 224.7,72.3 224.9,74.6 225.1,76.8 225.3,78.8 225.5,80.4 225.7,78.6 225.9,76.9 226.1,75.1 226.3,73.5 226.5,72.0 226.7,70.3 226.9,68.4 227.1,66.5 227.3,64.4 227.5,62.2 227.7,60.1 227.9,59.1 228.1,59.2 228.3,59.4 228.5,59.7 228.7,59.9 228.9,60.4 229.1,60.9 229.3,59.7 229.5,58.5 229.7,57.3 229.9,56.1 230.1,54.8 230.3,53.4 230.5,51.9 230.7,50.1 230.9,48.1 231.1,45.9 231.3,43.6 231.5,41.2 231.7,38.8 231.9,36.6 232.1,34.7 232.3,36.7 232.5,38.8 232.7,40.9 232.9,43.0 233.1,45.2 233.3,47.4 233.5,49.6 233.7,52.1 233.9,54.6 234.1,57.0 234.3,59.3 234.5,61.3 234.7,63.0 234.9,64.5 235.1,65.9 235.3,67.0 235.5,68.5 235.7,70.1 235.9,72.1 236.1,74.3 236.3,76.5 236.5,78.6 236.7,80.7 236.9,82.5 237.1,81.1 237.3,79.1 237.5,77.2 237.7,75.3 237.9,73.7 238.1,72.2 238.3,70.7 238.5,69.2 238.7,67.7 238.9,66.3 239.1,64.9 239.3,63.9 239.5,64.4 239.7,64.6 239.9,64.7 240.1,64.7 240.3,64.8 240.5,64.8 240.7,63.9 240.9,62.1 241.1,60.5 241.3,59.0 241.5,57.5 241.7,55.9 241.9,54.2 242.1,52.4 242.3,50.4 242.5,48.2 242.7,45.9 242.9,43.6 243.1,41.3 243.3,39.2 243.5,37.3 243.7,37.4 243.9,39.5 244.1,41.6 244.3,43.7 244.5,45.4 244.7,47.3 244.9,48.9 245.1,50.5 245.3,52.3 245.5,54.4 245.7,56.6 245.9,59.1 246.1,61.4 246.3,63.6 246.5,65.7 246.7,67.7 246.9,69.7 247.1,71.8 247.3,73.9 247.5,76.1 247.7,78.2 247.9,80.2 248.1,82.1 248.3,83.8 248.5,85.3 248.7,84.8 248.9,82.3 249.1,79.6 249.3,76.9 249.5,74.4 249.7,72.1 249.9,70.2 250.1,68.6 250.3,67.3 250.5,66.2 250.7,65.1 250.9,63.9 251.1,63.0 251.3,63.3 251.5,63.5 251.7,63.7 251.9,63.8 252.1,64.1 252.3,64.3 252.5,63.9 252.7,61.9 252.9,59.9 253.1,57.9 253.3,55.8 253.5,53.9 253.7,51.9 253.9,49.9 254.1,48.0 254.3,46.0 254.5,44.2 254.7,42.4 254.9,40.7 255.1,39.0 255.3,37.5 255.5,36.1 255.7,36.6 255.9,38.8 256.1,40.9 256.3,42.8 256.5,44.6 256.7,46.0 256.9,47.1 257.1,48.3 257.3,49.5 257.5,50.7 257.7,52.1 257.9,53.8 258.1,55.8 258.3,58.1 258.5,60.4 258.7,62.8 258.9,65.3 259.1,67.5 259.3,69.8 259.5,72.0 259.7,74.0 259.9,75.9 260.1,77.7 260.3,79.4 260.5,80.9 260.7,80.9 260.9,79.3 261.1,77.7 261.3,76.3 261.5,74.9 261.7,73.5 261.9,71.8 262.1,69.8 262.3,67.7 262.5,65.3 262.7,63.0 262.9,60.9 263.1,59.0 263.3,57.5 263.5,58.1 263.7,58.7 263.9,59.3 264.1,59.8 264.3,60.2 264.5,60.4 264.7,60.5 264.9,60.0 265.1,58.2 265.3,56.3 265.5,54.5 265.7,52.7 265.9,50.8 266.1,49.1 266.3,47.2 266.5,45.4 266.7,43.6 266.9,42.1 267.1,40.5 267.3,39.2 267.5,38.1 267.7,37.0 267.9,35.8 268.1,34.4 268.3,32.6 268.5,34.2 268.7,35.5 268.9,37.0 269.1,38.7 269.3,40.6 269.5,42.9 269.7,45.4 269.9,48.0 270.1,50.7 270.3,53.3 270.5,55.7 270.7,57.9 270.9,60.0 271.1,62.1 271.3,63.9 271.5,65.8 271.7,67.7 271.9,69.8 272.1,72.1 272.3,74.4 272.5,76.8 272.7,79.2 272.9,81.6 273.1,82.8 273.3,81.0 273.5,79.0 273.7,76.7 273.9,74.1 274.1,71.6 274.3,68.9 274.5,66.4 274.7,64.2 274.9,62.1 275.1,60.3 275.3,58.5 275.5,58.5 275.7,59.0 275.9,59.5 276.1,59.9 276.3,60.6 276.5,61.1 276.7,61.3 276.9,59.9 277.1,58.4 277.3,56.8 277.5,55.2 277.7,53.4 277.9,51.5 278.1,49.8 278.3,48.1 278.5,46.4 278.7,44.5 278.9,42.5 279.1,40.4 279.3,38.5 279.5,36.6 279.7,36.7 279.9,38.9 280.1,41.1 280.3,43.4 280.5,45.9 280.7,48.3 280.9,50.8 281.1,53.0 281.3,55.1 281.5,56.9 281.7,58.5 281.9,60.1 282.1,61.6 282.3,63.0 282.5,64.3 282.7,65.6 282.9,66.9 283.1,68.3 283.3,70.0 283.5,71.8 283.7,73.8 283.9,76.1 284.1,78.3 284.3,80.4 284.5,82.4 284.7,82.6 284.9,81.0 285.1,79.6 285.3,78.3 285.5,77.3 285.7,76.1 285.9,75.0 286.1,73.8 286.3,72.3 286.5,70.7 286.7,69.0 286.9,67.1 287.1,65.1 287.3,64.1 287.5,63.9 287.7,63.7 287.9,63.7 288.1,63.5 288.3,63.2 288.5,63.1 288.7,62.7 288.9,60.7 289.1,58.9 289.3,57.4 289.5,56.1 289.7,54.8 289.9,53.8 290.1,52.6 290.3,51.3 290.5,49.8 290.7,48.1 290.9,46.3 291.1,44.2 291.3,42.1 291.5,40.0 291.7,38.0 291.9,36.4 292.1,36.8 292.3,39.0 292.5,41.3 292.7,43.6 292.9,45.6 293.1,47.6 293.3,49.7 293.5,51.8 293.7,54.2 293.9,56.6 294.1,59.2 294.3,61.7 294.5,64.0 294.7,66.2 294.9,68.2 295.1,70.1 295.3,71.9 295.5,73.6 295.7,75.3 295.9,77.1 296.1,79.0 296.3,80.8 296.5,79.3 296.7,77.3 296.9,75.3 297.1,73.2 297.3,71.2 297.5,69.2 297.7,67.4 297.9,65.8 298.1,64.7 298.3,63.6 298.5,63.4 298.7,64.3 298.9,65.2 299.1,65.8 299.3,66.3 299.5,66.8 299.7,66.2 299.9,64.4 300.1,62.3 300.3,60.4 300.5,58.4 300.7,56.2 300.9,54.2 301.1,52.2 301.3,50.2 301.5,48.3 301.7,46.2 301.9,44.2 302.1,42.3 302.3,40.2 302.5,42.6 302.7,45.1 302.9,47.8 303.1,50.5 303.3,53.3 303.5,56.0 303.7,58.6 303.9,61.1 304.1,63.4 304.3,65.3 304.5,67.0 304.7,68.9 304.9,70.7 305.1,72.8 305.3,75.1 305.5,77.4 305.7,76.2 305.9,74.4 306.1,72.5 306.3,70.8 306.5,69.2 306.7,67.6 306.9,66.0 307.1,64.7 307.3,65.6 307.5,66.5 307.7,67.3 307.9,67.9 308.1,67.2 308.3,65.3 308.5,63.3 308.7,61.1 308.9,59.0 309.1,56.9 309.3,54.7 309.5,52.6 309.7,50.7 309.9,48.5 310.1,48.3 310.3,50.0 310.5,51.8 310.7,53.7 310.9,55.4 311.1,57.2 311.3,59.0 311.5,60.8 311.7,62.5 311.9,64.2 312.1,66.1 312.3,67.7 312.5,69.4 312.7,70.9 312.9,72.5 313.1,73.9 313.3,75.2 313.5,76.6 313.7,78.3 313.9,79.7 314.1,81.5 314.3,80.9 314.5,79.4 314.7,78.0 314.9,76.5 315.1,75.0 315.3,73.5 315.5,72.0 315.7,70.5 315.9,69.2 316.1,68.2 316.3,68.2 316.5,68.8 316.7,69.3 316.9,69.5 317.1,69.5 317.3,69.3 317.5,67.5 317.7,65.4 317.9,63.3 318.1,61.4 318.3,59.6 318.5,57.7 318.7,55.8 318.9,53.7 319.1,51.6 319.3,49.6 319.5,47.8 319.7,46.2 319.9,44.8 320.1,47.6 320.3,50.6 320.5,53.5 320.7,56.5 320.9,59.3 321.1,62.2 321.3,65.0 321.5,67.6 321.7,70.1 321.9,72.3 322.1,74.3 322.3,76.2 322.5,77.7 322.7,79.3 322.9,81.3 323.1,80.1 323.3,77.6 323.5,75.3 323.7,73.1 323.9,71.1 324.1,69.2 324.3,67.6 324.5,66.5 324.7,67.3 324.9,68.3 325.1,69.2 325.3,70.0 325.5,68.1 325.7,66.1 325.9,63.7 326.1,61.2 326.3,58.4 326.5,55.6 326.7,53.0 326.9,50.3 327.1,47.6 327.3,46.8 327.5,48.5 327.7,50.2 327.9,52.0 328.1,53.8 328.3,55.7 328.5,57.7 328.7,60.4 328.9,63.2 329.1,65.6 329.3,68.8 329.5,71.8 329.7,74.7 329.9,77.3 330.1,79.5 330.3,81.3 330.5,82.8 330.7,80.5 330.9,77.4 331.1,74.4 331.3,71.6 331.5,69.0 331.7,66.8 331.9,64.7 332.1,62.9 332.3,63.4 332.5,64.3 332.7,65.1 332.9,65.9 333.1,66.3 333.3,65.1 333.5,63.9 333.7,62.5 333.9,60.8 334.1,58.8 334.3,56.5 334.5,53.9 334.7,51.2 334.9,48.7 335.1,45.9 335.3,48.0 335.5,49.9 335.7,52.1 335.9,54.1 336.1,56.1 336.3,58.3 336.5,60.8 336.7,63.5 336.9,65.9 337.1,68.4 337.3,70.9 337.5,73.7 337.7,76.5 337.9,75.3 338.1,73.0 338.3,70.5 338.5,67.8 338.7,64.7 338.9,61.7 339.1,59.8 339.3,60.0 339.5,60.0 339.7,59.8 339.9,57.5 340.1,54.3 340.3,51.5 340.5,49.1 340.7,47.1 340.9,45.2 341.1,43.7 341.3,42.1 341.5,44.6 341.7,50.7 341.9,56.7 342.1,62.4 342.3,67.7 342.5,72.7 342.7,77.2 342.9,76.2 343.1,70.7 343.3,65.5 343.5,61.6 343.7,62.0 343.9,60.8 344.1,55.4 344.3,50.1 344.5,44.7 344.7,39.6 344.9,42.3 345.1,45.4 345.3,48.7 345.5,52.4 345.7,55.9 345.9,59.7 346.1,63.7 346.3,67.1 346.5,70.2 346.7,73.0 346.9,75.3 347.1,78.0 347.3,76.9 347.5,74.6 347.7,72.2 347.9,70.2 348.1,68.3 348.3,66.5 348.5,66.4 348.7,66.6 348.9,66.8 349.1,66.3 349.3,64.9 349.5,63.7 349.7,62.7 349.9,61.7 350.1,61.1 350.3,60.2 350.5,59.4 350.7,61.0 350.9,62.6 351.1,63.9 351.3,64.8 351.5,65.5 351.7,65.8 351.9,65.8 352.1,65.7 352.3,65.2 352.5,65.5 352.7,65.8 352.9,65.9 353.1,64.4 353.3,63.1 353.5,62.3 353.7,61.8 353.9,61.5 354.1,62.4 354.3,64.1 354.5,65.6 354.7,66.8 354.9,66.2 355.1,65.7 355.3,64.6 355.5,63.4 355.7,61.7 355.9,59.8 356.1,57.7 356.3,57.7 356.5,57.7 356.7,57.5 356.9,57.2 357.1,56.4 357.3,56.1 357.5,56.3 357.7,57.0 357.9,58.2 358.1,59.7 358.3,61.9 358.5,64.0 358.7,67.1 358.9,69.1 359.1,72.0 359.3,74.2 359.5,73.5 359.7,72.7 359.9,71.6 360.1,69.9 360.3,68.2 360.5,66.3 360.7,64.4 360.9,63.0 361.1,62.4 361.3,61.0 361.5,60.3 361.7,60.0 361.9,58.4 362.1,56.8 362.3,55.6 362.5,54.4 362.7,54.1 362.9,53.4 363.1,53.2 363.3,53.6 363.5,54.4 363.7,54.4 363.9,57.3 364.1,59.7 364.3,61.5 364.5,62.5 364.7,63.0 364.9,63.2 365.1,63.0 365.3,62.7 365.5,62.7 365.7,62.8 365.9,63.9 366.1,65.1 366.3,66.8 366.5,68.5 366.7,67.5 366.9,67.1 367.1,67.2 367.3,67.0 367.5,67.1 367.7,66.7 367.9,66.8 368.1,67.7 368.3,68.0 368.5,68.0 368.7,66.4 368.9,63.3 369.1,60.6 369.3,57.9 369.5,54.3 369.7,50.9 369.9,47.8 370.1,44.8 370.3,42.4 370.5,45.5 370.7,49.2 370.9,53.4 371.1,57.6 371.3,62.2 371.5,67.7 371.7,72.6 371.9,76.0 372.1,73.8 372.3,71.8 372.5,68.9 372.7,67.6 372.9,67.7 373.1,66.5 373.3,62.3 373.5,57.9 373.7,53.3 373.9,48.6 374.1,47.6 374.3,50.0 374.5,52.1 374.7,54.7 374.9,57.9 375.1,61.4 375.3,65.0 375.5,63.7 375.7,61.9 375.9,59.8 376.1,60.2 376.3,62.2 376.5,61.3 376.7,58.7 376.9,55.7 377.1,52.1 377.3,52.0 377.5,55.4 377.7,58.4 377.9,61.1 378.1,63.7 378.3,65.5 378.5,68.0 378.7,66.3 378.9,61.7 379.1,56.9 379.3,53.9 379.5,54.5 379.7,53.9 379.9,50.7 380.1,47.7 380.3,45.6 380.5,43.3 380.7,49.0 380.9,55.0 381.1,61.6 381.3,67.0 381.5,72.2 381.7,77.5 381.9,75.8 382.1,70.6 382.3,65.3 382.5,63.3 382.7,62.8 382.9,56.8 383.1,50.1 383.3,44.4 383.5,38.7 383.7,42.5 383.9,46.8 384.1,51.4 384.3,56.3 384.5,62.0 384.7,67.4 384.9,73.0 385.1,69.9 385.3,66.7 385.5,63.2 385.7,63.1 385.9,64.3 386.1,60.4 386.3,54.2 386.5,48.8 386.7,42.7 386.9,41.4 387.1,45.2 387.3,48.5 387.5,52.5 387.7,56.3 387.9,60.2 388.1,64.5 388.3,64.2 388.5,60.8 388.7,57.4 388.9,55.8 389.1,58.0 389.3,58.7 389.5,56.8 389.7,53.8 389.9,51.3 390.1,48.2 390.3,53.2 390.5,57.8 390.7,61.8 390.9,65.0 391.1,68.5 391.3,71.4 391.5,72.0 391.7,65.7 391.9,60.6 392.1,55.4 392.3,55.7 392.5,55.2 392.7,51.4 392.9,48.0 393.1,44.7 393.3,41.2 393.5,45.2 393.7,50.4 393.9,55.4 394.1,60.0 394.3,65.2 394.5,69.6 394.7,73.8 394.9,77.6 395.1,78.9 395.3,75.4 395.5,72.0 395.7,68.0 395.9,64.2 396.1,62.3 396.3,62.5 396.5,58.9 396.7,55.1 396.9,51.9 397.1,48.7 397.3,46.0 397.5,47.0 397.7,51.4 397.9,56.5 398.1,61.4 398.3,67.0 398.5,72.2 398.7,74.3 398.9,71.8 399.1,69.7 399.3,68.3 399.5,68.3 399.7,65.2 399.9,60.9 400.1,55.7 400.3,50.8 400.5,52.9 400.7,54.7 400.9,56.7 401.1,59.0 401.3,61.6 401.5,64.5 401.7,63.4 401.9,60.7 402.1,58.0 402.3,58.6 402.5,61.1 402.7,60.3 402.9,58.4 403.1,56.7 403.3,54.1 403.5,58.0 403.7,61.4 403.9,64.7 404.1,67.8 404.3,70.5 404.5,72.6 404.7,74.1 404.9,72.7 405.1,67.9 405.3,61.8 405.5,57.0 405.7,56.2 405.9,56.8 406.1,54.4 406.3,51.0 406.5,47.9 406.7,45.5 406.9,43.2 407.1,48.6 407.3,54.1 407.5,58.9 407.7,63.6 407.9,68.1 408.1,72.3 408.3,76.2 408.5,76.3 408.7,71.3 408.9,66.2 409.1,61.9 409.3,60.6 409.5,59.8 409.7,56.9 409.9,52.3 410.1,47.7 410.3,43.5 410.5,39.3 410.7,41.6 410.9,43.9 411.1,46.7 411.3,49.8 411.5,52.4 411.7,55.7 411.9,59.4 412.1,62.4 412.3,65.4 412.5,68.0 412.7,70.0 412.9,71.5 413.1,72.7 413.3,70.9 413.5,67.6 413.7,64.1 413.9,60.7 414.1,58.0 414.3,55.2 414.5,53.7 414.7,54.3 414.9,55.5 415.1,57.2 415.3,57.1 415.5,56.7 415.7,55.8 415.9,55.4 416.1,54.4 416.3,53.1 416.5,51.8 416.7,50.2 416.9,50.9 417.1,53.7 417.3,56.5 417.5,58.8 417.7,60.5 417.9,61.9 418.1,63.6 418.3,65.1 418.5,67.2 418.7,64.2 418.9,61.9 419.1,60.4 419.3,58.9 419.5,60.2 419.7,62.2 419.9,61.4 420.1,59.9 420.3,57.1 420.5,54.6 420.7,51.4 420.9,50.7 421.1,52.7 421.3,54.2 421.5,55.1 421.7,56.4 421.9,57.5 422.1,59.4 422.3,61.8 422.5,64.5 422.7,67.5 422.9,70.8 423.1,72.9 423.3,71.3 423.5,69.4 423.7,68.2 423.9,67.9 424.1,67.5 424.3,69.2 424.5,70.7 424.7,71.7 424.9,70.1 425.1,68.4 425.3,66.0 425.5,62.8 425.7,60.1 425.9,57.5 426.1,54.5 426.3,55.9 426.5,57.1 426.7,58.6 426.9,61.1 427.1,64.0 427.3,66.7 427.5,70.0 427.7,73.9 427.9,72.9 428.1,71.5 428.3,70.1 428.5,69.0 428.7,70.0 428.9,71.4 429.1,70.5 429.3,67.8 429.5,64.5 429.7,60.3 429.9,56.9 430.1,55.5 430.3,55.4 430.5,55.0 430.7,55.6 430.9,56.4 431.1,57.8 431.3,59.9 431.5,62.2 431.7,65.1 431.9,68.3 432.1,71.6 432.3,75.2 432.5,78.4 432.7,80.9 432.9,81.0 433.1,79.4 433.3,77.2 433.5,73.6 433.7,70.1 433.9,66.3 434.1,62.7 434.3,61.1 434.5,60.5 434.7,60.2 434.9,60.2 435.1,58.6 435.3,57.3 435.5,56.3 435.7,54.8 435.9,54.9 436.1,54.5 436.3,53.4 436.5,53.3 436.7,55.7 436.9,60.9 437.1,65.4 437.3,69.4 437.5,73.5 437.7,76.6 437.9,79.3 438.1,80.2 438.3,74.8 438.5,69.5 438.7,64.4 438.9,62.8 439.1,63.4 439.3,61.5 439.5,57.6 439.7,54.5 439.9,51.1 440.1,48.2 440.3,51.4 440.5,54.6 440.7,58.2 440.9,61.5 441.1,64.2 441.3,66.0 441.5,67.4 441.7,67.9 441.9,68.9 442.1,69.2 442.3,69.2 442.5,69.2 442.7,70.0 442.9,70.9 443.1,71.5 443.3,72.9 443.5,74.6 443.7,76.7 443.9,79.4 444.1,81.1 444.3,80.7 444.5,81.0 444.7,80.7 444.9,80.0 445.1,78.8 445.3,76.7 445.5,73.8 445.7,70.4 445.9,66.7 446.1,64.9 446.3,63.7 446.5,62.2 446.7,61.3 446.9,60.4 447.1,58.2 447.3,55.1 447.5,52.7 447.7,50.7 447.9,49.4 448.1,47.2 448.3,45.7 448.5,43.8 448.7,43.2 448.9,42.9 449.1,42.8 449.3,42.2 449.5,43.9 449.7,48.3 449.9,51.9 450.1,54.9 450.3,57.7 450.5,59.7 450.7,61.7 450.9,63.6 451.1,65.3 451.3,67.3 451.5,69.9 451.7,72.4 451.9,75.6 452.1,77.3 452.3,74.9 452.5,72.9 452.7,71.2 452.9,69.6 453.1,68.2 453.3,66.5 453.5,67.1 453.7,68.7 453.9,69.4 454.1,69.2 454.3,66.0 454.5,62.4 454.7,57.7 454.9,54.0 455.1,50.1 455.3,45.9 455.5,41.1 455.7,37.2 455.9,39.7 456.1,41.7 456.3,44.4 456.5,47.2 456.7,50.6 456.9,54.0 457.1,57.7 457.3,62.1 457.5,66.4 457.7,71.1 457.9,75.3 458.1,79.8 458.3,83.7 458.5,85.7 458.7,84.3 458.9,82.1 459.1,79.0 459.3,76.0 459.5,72.5 459.7,68.9 459.9,67.6 460.1,66.2 460.3,65.6 460.5,65.1 460.7,62.8 460.9,60.4 461.1,58.6 461.3,57.1 461.5,55.4 461.7,54.1 461.9,53.8 462.1,53.2 462.3,55.1 462.5,59.0 462.7,62.4 462.9,65.8 463.1,68.5 463.3,70.8 463.5,72.7 463.7,74.9 463.9,76.3 464.1,77.3 464.3,78.4 464.5,79.9 464.7,79.4 464.9,75.8 465.1,72.9 465.3,70.6 465.5,69.1 465.7,68.2 465.9,69.2 466.1,71.1 466.3,73.2 466.5,75.2 466.7,74.2 466.9,72.6 467.1,70.1 467.3,67.1 467.5,63.6 467.7,59.9 467.9,55.9 468.1,54.4 468.3,54.8 468.5,55.9 468.7,57.2 468.9,58.7 469.1,60.7 469.3,63.0 469.5,65.5 469.7,68.6 469.9,72.1 470.1,76.1 470.3,80.5 470.5,82.4 470.7,82.6 470.9,81.5 471.1,80.2 471.3,78.3 471.5,76.1 471.7,74.6 471.9,74.4 472.1,73.5 472.3,71.6 472.5,67.3 472.7,63.1 472.9,58.4 473.1,54.4 473.3,50.9 473.5,48.2 473.7,46.0 473.9,46.4 474.1,49.8 474.3,53.2 474.5,57.0 474.7,60.7 474.9,64.0 475.1,67.1 475.3,69.8 475.5,71.8 475.7,73.1 475.9,73.7 476.1,74.2 476.3,74.3 476.5,74.9 476.7,75.6 476.9,73.3 477.1,71.4 477.3,69.4 477.5,68.4 477.7,67.3 477.9,67.5 478.1,66.8 478.3,68.4 478.5,71.0 478.7,73.0 478.9,73.8 479.1,72.8 479.3,70.7 479.5,68.5 479.7,66.0 479.9,63.3 480.1,60.4 480.3,57.2 480.5,53.9 480.7,50.8 480.9,50.2 481.1,50.6 481.3,52.3 481.5,53.7 481.7,55.7 481.9,58.1 482.1,60.8 482.3,63.7 482.5,66.8 482.7,69.9 482.9,72.5 483.1,75.9 483.3,78.4 483.5,81.0 483.7,82.8 483.9,84.3 484.1,81.2 484.3,77.4 484.5,74.0 484.7,70.4 484.9,66.0 485.1,62.8 485.3,59.7 485.5,57.7 485.7,57.8 485.9,58.1 486.1,58.2 486.3,58.0 486.5,55.9 486.7,54.4 486.9,53.1 487.1,51.4 487.3,50.6 487.5,49.8 487.7,48.2 487.9,46.9 488.1,45.0 488.3,45.7 488.5,48.6 488.7,51.5 488.9,53.1 489.1,55.1 489.3,56.6 489.5,58.2 489.7,59.7 489.9,61.5 490.1,63.9 490.3,66.8 490.5,70.4 490.7,74.2 490.9,77.5 491.1,81.8 491.3,81.6 491.5,80.1 491.7,78.6 491.9,77.5 492.1,76.1 492.3,74.2 492.5,71.2 492.7,70.2 492.9,69.6 493.1,69.3 493.3,68.3 493.5,65.1 493.7,61.0 493.9,56.8 494.1,52.7 494.3,48.9 494.5,45.2 494.7,42.6 494.9,40.7 495.1,39.5 495.3,41.3 495.5,46.1 495.7,51.8 495.9,56.4 496.1,60.8 496.3,64.4 496.5,67.4 496.7,69.7 496.9,71.2 497.1,72.9 497.3,74.0 497.5,74.6 497.7,76.3 497.9,78.1 498.1,75.7 498.3,73.5 498.5,71.9 498.7,70.3 498.9,69.4 499.1,68.2 499.3,67.7 499.5,69.6 499.7,71.9 499.9,73.1 500.1,73.3 500.3,72.5 500.5,71.6 500.7,70.2 500.9,68.4 501.1,65.8 501.3,63.0 501.5,60.0 501.7,55.8 501.9,55.9 502.1,57.4 502.3,59.0 502.5,60.9 502.7,63.2 502.9,65.7 503.1,68.8 503.3,71.6 503.5,74.7 503.7,76.9 503.9,73.9 504.1,71.8 504.3,69.0 504.5,66.1 504.7,65.0 504.9,66.8 505.1,67.9 505.3,65.6 505.5,61.1 505.7,56.0 505.9,50.7 506.1,45.9 506.3,40.1 506.5,37.4 506.7,37.7 506.9,38.9 507.1,40.2 507.3,42.3 507.5,44.5 507.7,47.7 507.9,50.7 508.1,54.1 508.3,57.4 508.5,61.1 508.7,64.5 508.9,67.5 509.1,70.0 509.3,72.2 509.5,74.3 509.7,75.9 509.9,77.3 510.1,77.8 510.3,77.9 510.5,78.3 510.7,78.5 510.9,77.1 511.1,73.8 511.3,70.8 511.5,68.3 511.7,66.5 511.9,65.1 512.1,63.9 512.3,63.6 512.5,63.3 512.7,62.8 512.9,61.3 513.1,62.3 513.3,64.2 513.5,65.8 513.7,67.4 513.9,68.2 514.1,68.4 514.3,66.9 514.5,64.4 514.7,61.5 514.9,58.5 515.1,55.1 515.3,51.6 515.5,48.4 515.7,45.5 515.9,43.4 516.1,41.4 516.3,40.0 516.5,39.3 516.7,38.7 516.9,38.5 517.1,42.9 517.3,48.0 517.5,52.9 517.7,57.1 517.9,61.0 518.1,64.5 518.3,67.3 518.5,69.9 518.7,71.7 518.9,73.6 519.1,74.4 519.3,75.3 519.5,77.0 519.7,78.7 519.9,77.3 520.1,74.1 520.3,71.5 520.5,69.3 520.7,67.8 520.9,67.2 521.1,66.9 521.3,67.6 521.5,70.4 521.7,72.4 521.9,73.7 522.1,73.1 522.3,70.5 522.5,67.1 522.7,63.6 522.9,59.5 523.1,56.2 523.3,52.0 523.5,48.6 523.7,44.7 523.9,44.2 524.1,45.4 524.3,46.9 524.5,49.1 524.7,52.1 524.9,55.2 525.1,59.4 525.3,64.1 525.5,67.5 525.7,71.1 525.9,74.6 526.1,78.0 526.3,81.0 526.5,83.3 526.7,85.5 526.9,85.6 527.1,82.8 527.3,79.0 527.5,75.3 527.7,70.7 527.9,66.5 528.1,62.8 528.3,59.2 528.5,58.9 528.7,59.4 528.9,60.2 529.1,61.5 529.3,61.2 529.5,60.7 529.7,61.2 529.9,61.0 530.1,60.6 530.3,59.9 530.5,58.5 530.7,57.0 530.9,55.2 531.1,55.4 531.3,57.4 531.5,58.7 531.7,59.8 531.9,60.6 532.1,61.7 532.3,62.6 532.5,63.1" stroke="#00f" stroke-width="1.3" stroke-dasharray="3.6 1.5 0.9 1.6"/></g><rect x="45.5" y="6.4" width="255" height="18" fill="#fff"/><line x1="57.2" y1="15.8" x2="93.2" y2="15.8" stroke="#000" stroke-width="1.5"/><text x="97.6" y="21" font-family="'Liberation Serif', 'Times New Roman', serif" font-size="15.5">L2</text><line x1="117.5" y1="15.8" x2="152.1" y2="15.8" stroke="#f00" stroke-width="1.5" stroke-dasharray="4.7 2.3 0.9 2.4 0.9 2.3"/><text x="158.0" y="21" font-family="'Liberation Serif', 'Times New Roman', serif" font-size="15.5">L4</text><line x1="177.9" y1="15.8" x2="214.4" y2="15.8" stroke="#0f0" stroke-width="1.5" stroke-dasharray="6 2 1 2.6"/><text x="218.0" y="21" font-family="'Liberation Serif', 'Times New Roman', serif" font-size="15.5">L6</text><line x1="238.5" y1="15.8" x2="272.7" y2="15.8" stroke="#00f" stroke-width="1.5" stroke-dasharray="3.6 1.5 0.9 1.6"/><text x="279.0" y="21" font-family="'Liberation Serif', 'Times New Roman', serif" font-size="15.5">L8</text><rect x="44.5" y="5.4" width="487.20000000000005" height="243.9" fill="none" stroke="#000" stroke-width="1.5"/><line x1="44.5" y1="127.3" x2="531.7" y2="127.3" stroke="#000" stroke-width="1.5"/><line x1="125.70" y1="5.4" x2="125.70" y2="9.0" stroke="#000" stroke-width="1.5"/><line x1="125.70" y1="249.3" x2="125.70" y2="245.70000000000002" stroke="#000" stroke-width="1.5"/><line x1="125.70" y1="126.3" x2="125.70" y2="128.3" stroke="#fff" stroke-width="0.9"/><line x1="206.90" y1="5.4" x2="206.90" y2="12.4" stroke="#000" stroke-width="1.5"/><line x1="206.90" y1="249.3" x2="206.90" y2="242.3" stroke="#000" stroke-width="1.5"/><line x1="206.90" y1="126.3" x2="206.90" y2="128.3" stroke="#fff" stroke-width="0.9"/><line x1="288.10" y1="5.4" x2="288.10" y2="9.0" stroke="#000" stroke-width="1.5"/><line x1="288.10" y1="249.3" x2="288.10" y2="245.70000000000002" stroke="#000" stroke-width="1.5"/><line x1="288.10" y1="126.3" x2="288.10" y2="128.3" stroke="#fff" stroke-width="0.9"/><line x1="369.30" y1="5.4" x2="369.30" y2="12.4" stroke="#000" stroke-width="1.5"/><line x1="369.30" y1="249.3" x2="369.30" y2="242.3" stroke="#000" stroke-width="1.5"/><line x1="369.30" y1="126.3" x2="369.30" y2="128.3" stroke="#fff" stroke-width="0.9"/><line x1="450.50" y1="5.4" x2="450.50" y2="9.0" stroke="#000" stroke-width="1.5"/><line x1="450.50" y1="249.3" x2="450.50" y2="245.70000000000002" stroke="#000" stroke-width="1.5"/><line x1="450.50" y1="126.3" x2="450.50" y2="128.3" stroke="#fff" stroke-width="0.9"/><line x1="44.5" y1="117.14" x2="49.2" y2="117.14" stroke="#000" stroke-width="1.5"/><line x1="531.7" y1="117.14" x2="527.0" y2="117.14" stroke="#000" stroke-width="1.5"/><text x="38.6" y="122.04" font-family="'Liberation Serif', 'Times New Roman', serif" font-size="15" text-anchor="end">−1</text><line x1="44.5" y1="239.13" x2="49.2" y2="239.13" stroke="#000" stroke-width="1.5"/><line x1="531.7" y1="239.13" x2="527.0" y2="239.13" stroke="#000" stroke-width="1.5"/><text x="38.6" y="244.03" font-family="'Liberation Serif', 'Times New Roman', serif" font-size="15" text-anchor="end">−1</text><line x1="44.5" y1="96.83" x2="49.2" y2="96.83" stroke="#000" stroke-width="1.5"/><line x1="531.7" y1="96.83" x2="527.0" y2="96.83" stroke="#000" stroke-width="1.5"/><text x="38.6" y="101.73" font-family="'Liberation Serif', 'Times New Roman', serif" font-size="15" text-anchor="end">0</text><line x1="44.5" y1="218.80" x2="49.2" y2="218.80" stroke="#000" stroke-width="1.5"/><line x1="531.7" y1="218.80" x2="527.0" y2="218.80" stroke="#000" stroke-width="1.5"/><text x="38.6" y="223.70" font-family="'Liberation Serif', 'Times New Roman', serif" font-size="15" text-anchor="end">0</text><line x1="44.5" y1="76.51" x2="49.2" y2="76.51" stroke="#000" stroke-width="1.5"/><line x1="531.7" y1="76.51" x2="527.0" y2="76.51" stroke="#000" stroke-width="1.5"/><text x="38.6" y="81.41" font-family="'Liberation Serif', 'Times New Roman', serif" font-size="15" text-anchor="end">1</text><line x1="44.5" y1="198.47" x2="49.2" y2="198.47" stroke="#000" stroke-width="1.5"/><line x1="531.7" y1="198.47" x2="527.0" y2="198.47" stroke="#000" stroke-width="1.5"/><text x="38.6" y="203.37" font-family="'Liberation Serif', 'Times New Roman', serif" font-size="15" text-anchor="end">1</text><line x1="44.5" y1="56.19" x2="49.2" y2="56.19" stroke="#000" stroke-width="1.5"/><line x1="531.7" y1="56.19" x2="527.0" y2="56.19" stroke="#000" stroke-width="1.5"/><text x="38.6" y="61.09" font-family="'Liberation Serif', 'Times New Roman', serif" font-size="15" text-anchor="end">2</text><line x1="44.5" y1="178.13" x2="49.2" y2="178.13" stroke="#000" stroke-width="1.5"/><line x1="531.7" y1="178.13" x2="527.0" y2="178.13" stroke="#000" stroke-width="1.5"/><text x="38.6" y="183.03" font-family="'Liberation Serif', 'Times New Roman', serif" font-size="15" text-anchor="end">2</text><line x1="44.5" y1="35.88" x2="49.2" y2="35.88" stroke="#000" stroke-width="1.5"/><line x1="531.7" y1="35.88" x2="527.0" y2="35.88" stroke="#000" stroke-width="1.5"/><text x="38.6" y="40.77" font-family="'Liberation Serif', 'Times New Roman', serif" font-size="15" text-anchor="end">3</text><line x1="44.5" y1="157.80" x2="49.2" y2="157.80" stroke="#000" stroke-width="1.5"/><line x1="531.7" y1="157.80" x2="527.0" y2="157.80" stroke="#000" stroke-width="1.5"/><text x="38.6" y="162.70" font-family="'Liberation Serif', 'Times New Roman', serif" font-size="15" text-anchor="end">3</text><line x1="44.5" y1="15.56" x2="49.2" y2="15.56" stroke="#000" stroke-width="1.5"/><line x1="531.7" y1="15.56" x2="527.0" y2="15.56" stroke="#000" stroke-width="1.5"/><text x="38.6" y="20.46" font-family="'Liberation Serif', 'Times New Roman', serif" font-size="15" text-anchor="end">4</text><line x1="44.5" y1="137.47" x2="49.2" y2="137.47" stroke="#000" stroke-width="1.5"/><line x1="531.7" y1="137.47" x2="527.0" y2="137.47" stroke="#000" stroke-width="1.5"/><text x="38.6" y="142.37" font-family="'Liberation Serif', 'Times New Roman', serif" font-size="15" text-anchor="end">4</text><text x="44.50" y="267.8" font-family="'Liberation Serif', 'Times New Roman', serif" font-size="15" text-anchor="middle">1000</text><text x="206.90" y="267.8" font-family="'Liberation Serif', 'Times New Roman', serif" font-size="15" text-anchor="middle">1100</text><text x="369.30" y="267.8" font-family="'Liberation Serif', 'Times New Roman', serif" font-size="15" text-anchor="middle">1200</text><text x="531.70" y="267.8" font-family="'Liberation Serif', 'Times New Roman', serif" font-size="15" text-anchor="middle">1300</text><text x="280.1" y="272" font-family="'Liberation Serif', 'Times New Roman', serif" font-size="17.3"><tspan font-style="italic">t</tspan>/s</text><text transform="translate(18.1,137.4) rotate(-90)" font-family="'Liberation Serif', 'Times New Roman', serif" font-size="17.05" text-anchor="middle">Tedon tension/MN</text></g></svg></body></html>
